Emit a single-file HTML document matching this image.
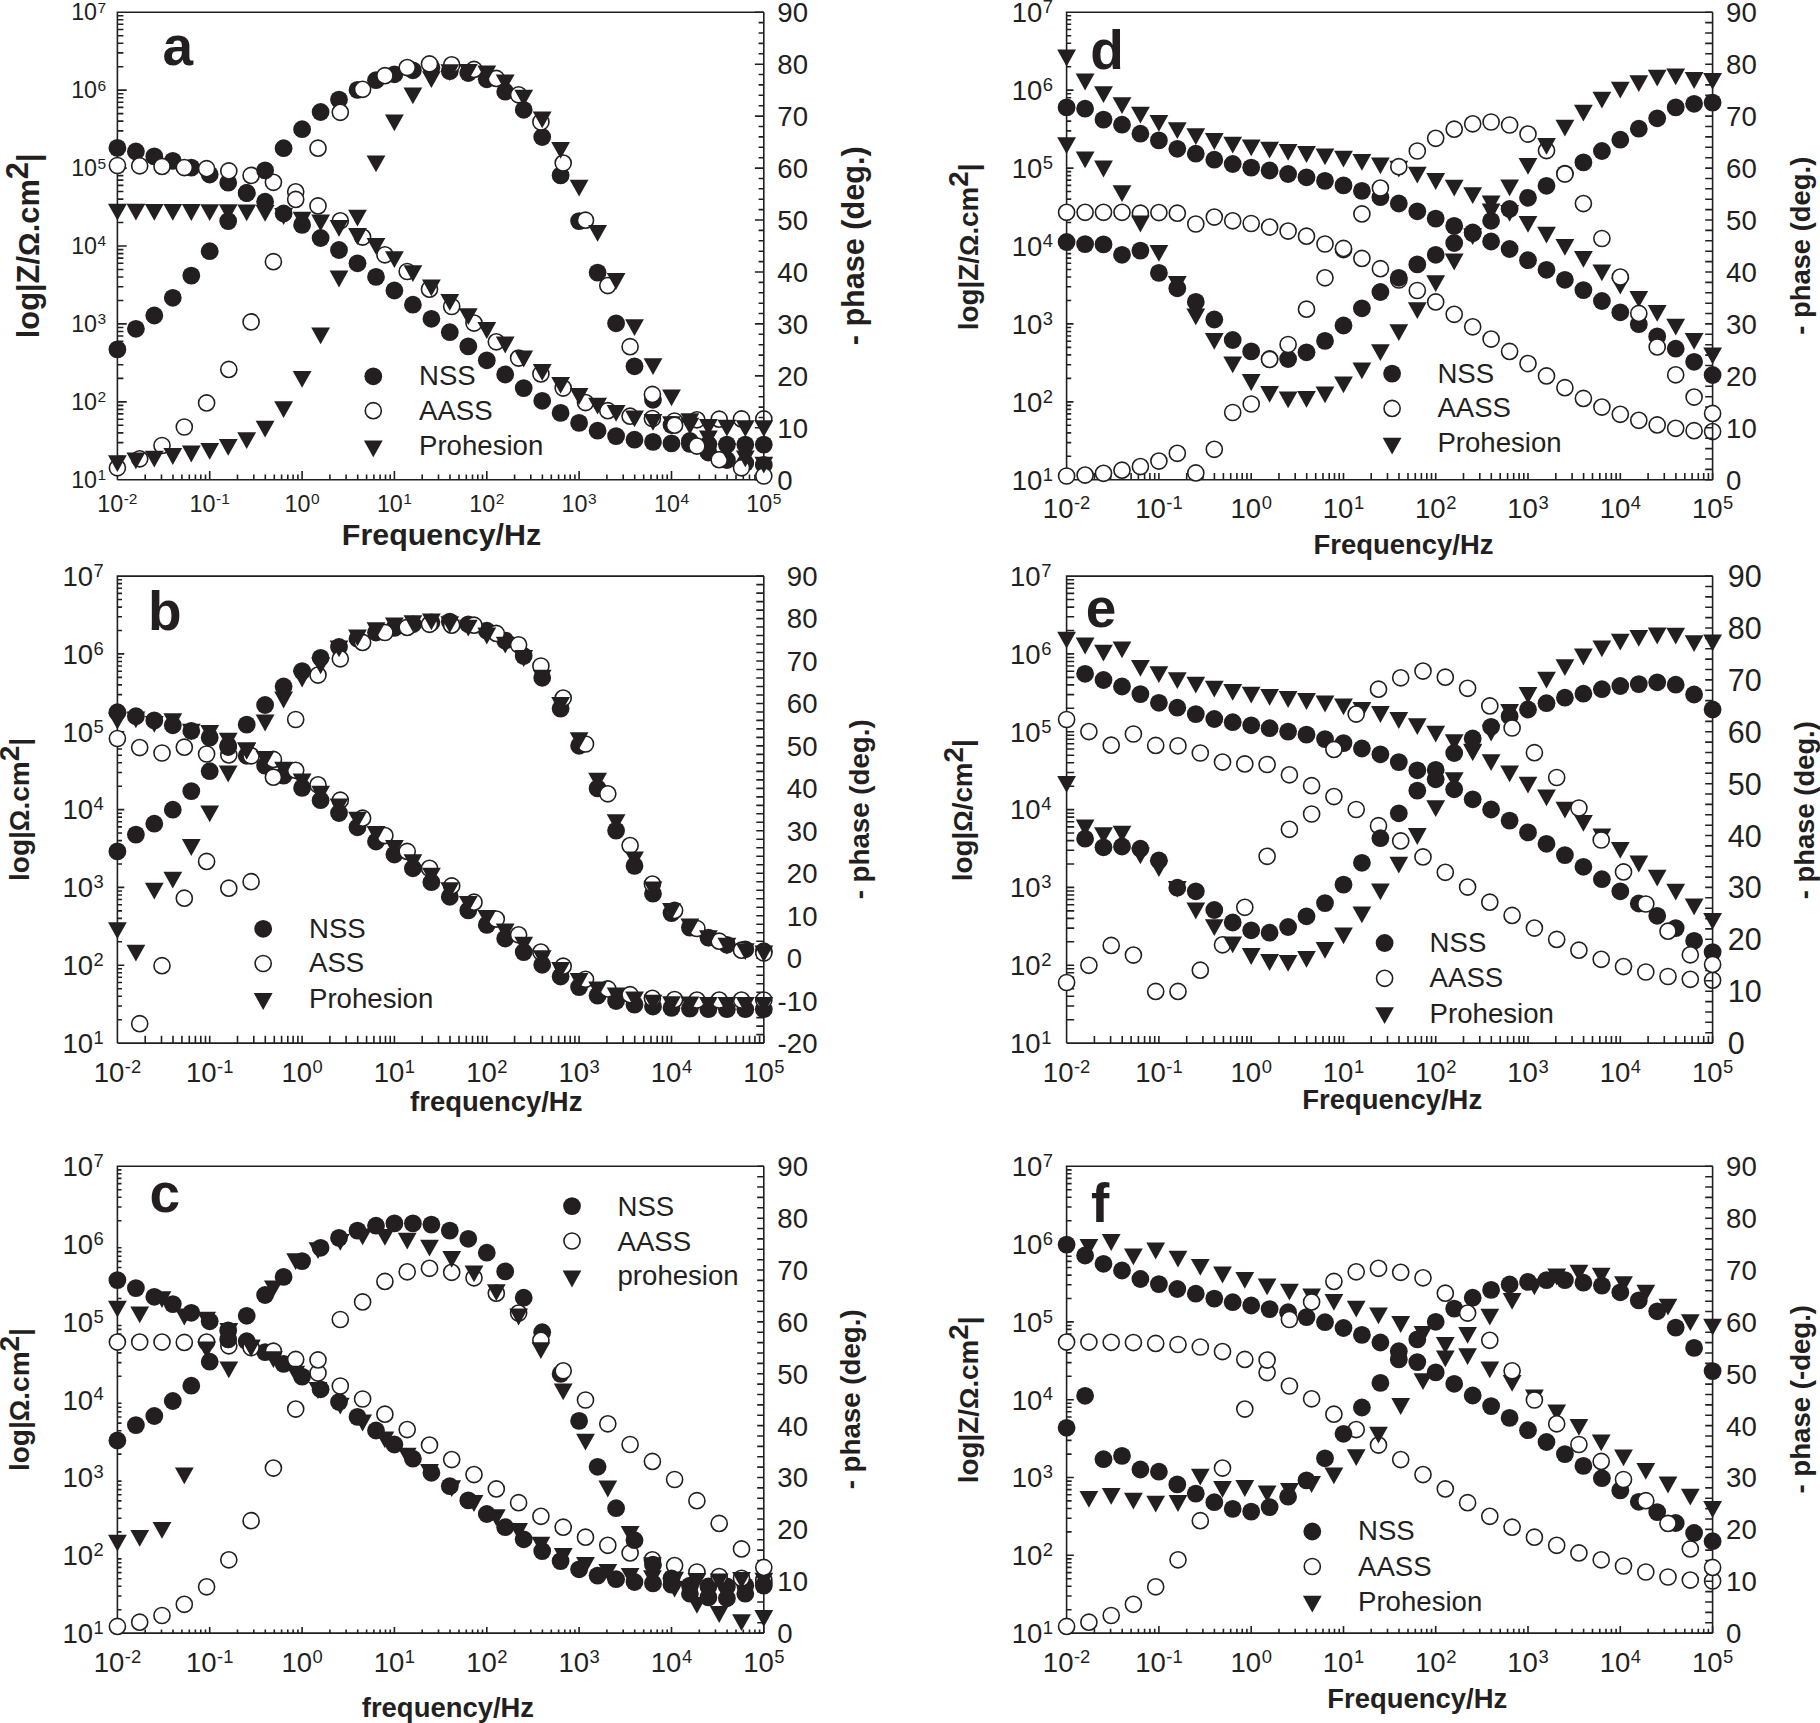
<!DOCTYPE html>
<html lang="en"><head><meta charset="utf-8"><title>Bode plots</title>
<style>
html,body{margin:0;padding:0;background:#fff}
svg{display:block}
svg text{font-family:"Liberation Sans",sans-serif;fill:#231f20}
svg circle,svg path{fill:#231f20}
.ax{fill:none;stroke:#231f20;stroke-width:1.6;stroke-linecap:butt}
.o{fill:#fff;stroke:#231f20;stroke-width:1.6}
.tl{font-size:23.3px}
.sp{font-size:15.5px}
.lg{font-size:27.6px}
.rl{font-size:27.6px}
.b{font-weight:bold}
</style></head><body>
<svg width="1820" height="1723" viewBox="0 0 1820 1723">
<rect width="1820" height="1723" fill="#fff" style="fill:#fff"/>
<g id="panel-a">
<path class="ax" d="M117.4 479.8V12.2H763.8M117.4 479.8H763.8M117.4 479.8h9.3M117.4 456.3h6M117.4 442.6h6M117.4 432.9h6M117.4 425.3h6M117.4 419.2h6M117.4 413.9h6M117.4 409.4h6M117.4 405.4h6M117.4 401.9h9.3M117.4 378.4h6M117.4 364.7h6M117.4 354.9h6M117.4 347.4h6M117.4 341.2h6M117.4 336h6M117.4 331.5h6M117.4 327.5h6M117.4 323.9h9.3M117.4 300.5h6M117.4 286.7h6M117.4 277h6M117.4 269.5h6M117.4 263.3h6M117.4 258.1h6M117.4 253.6h6M117.4 249.6h6M117.4 246h9.3M117.4 222.5h6M117.4 208.8h6M117.4 199.1h6M117.4 191.5h6M117.4 185.4h6M117.4 180.1h6M117.4 175.6h6M117.4 171.6h6M117.4 168.1h9.3M117.4 144.6h6M117.4 130.9h6M117.4 121.1h6M117.4 113.6h6M117.4 107.4h6M117.4 102.2h6M117.4 97.7h6M117.4 93.7h6M117.4 90.1h9.3M117.4 66.7h6M117.4 52.9h6M117.4 43.2h6M117.4 35.7h6M117.4 29.5h6M117.4 24.3h6M117.4 19.8h6M117.4 15.8h6M117.4 12.2h9.3M117.4 479.8v-8.9M145.2 479.8v-5.4M161.5 479.8v-5.4M173 479.8v-5.4M181.9 479.8v-5.4M189.3 479.8v-5.4M195.4 479.8v-5.4M200.8 479.8v-5.4M205.5 479.8v-5.4M209.7 479.8v-8.9M237.5 479.8v-5.4M253.8 479.8v-5.4M265.3 479.8v-5.4M274.3 479.8v-5.4M281.6 479.8v-5.4M287.8 479.8v-5.4M293.1 479.8v-5.4M297.9 479.8v-5.4M302.1 479.8v-8.9M329.9 479.8v-5.4M346.1 479.8v-5.4M357.7 479.8v-5.4M366.6 479.8v-5.4M373.9 479.8v-5.4M380.1 479.8v-5.4M385.5 479.8v-5.4M390.2 479.8v-5.4M394.4 479.8v-8.9M422.2 479.8v-5.4M438.5 479.8v-5.4M450 479.8v-5.4M459 479.8v-5.4M466.3 479.8v-5.4M472.5 479.8v-5.4M477.8 479.8v-5.4M482.5 479.8v-5.4M486.8 479.8v-8.9M514.6 479.8v-5.4M530.8 479.8v-5.4M542.4 479.8v-5.4M551.3 479.8v-5.4M558.6 479.8v-5.4M564.8 479.8v-5.4M570.2 479.8v-5.4M574.9 479.8v-5.4M579.1 479.8v-8.9M606.9 479.8v-5.4M623.2 479.8v-5.4M634.7 479.8v-5.4M643.7 479.8v-5.4M651 479.8v-5.4M657.2 479.8v-5.4M662.5 479.8v-5.4M667.2 479.8v-5.4M671.5 479.8v-8.9M699.3 479.8v-5.4M715.5 479.8v-5.4M727.1 479.8v-5.4M736 479.8v-5.4M743.3 479.8v-5.4M749.5 479.8v-5.4M754.9 479.8v-5.4M759.6 479.8v-5.4M763.8 479.8v-8.9"/>
<circle cx="117.4" cy="147.9" r="8.9"/><circle cx="135.9" cy="151.5" r="8.9"/><circle cx="154.3" cy="156.4" r="8.9"/><circle cx="172.8" cy="160.9" r="8.9"/><circle cx="191.3" cy="167.6" r="8.9"/><circle cx="209.7" cy="174.5" r="8.9"/><circle cx="228.2" cy="182.7" r="8.9"/><circle cx="246.7" cy="193" r="8.9"/><circle cx="265.1" cy="201.7" r="8.9"/><circle cx="283.6" cy="213.5" r="8.9"/><circle cx="302.1" cy="224.9" r="8.9"/><circle cx="320.6" cy="238" r="8.9"/><circle cx="339" cy="250" r="8.9"/><circle cx="357.5" cy="263.3" r="8.9"/><circle cx="376" cy="276.9" r="8.9"/><circle cx="394.4" cy="290.5" r="8.9"/><circle cx="412.9" cy="304.7" r="8.9"/><circle cx="431.4" cy="318.8" r="8.9"/><circle cx="449.8" cy="332.2" r="8.9"/><circle cx="468.3" cy="346.4" r="8.9"/><circle cx="486.8" cy="360.3" r="8.9"/><circle cx="505.2" cy="374.5" r="8.9"/><circle cx="523.7" cy="388.1" r="8.9"/><circle cx="542.2" cy="400.8" r="8.9"/><circle cx="560.6" cy="412.9" r="8.9"/><circle cx="579.1" cy="422.9" r="8.9"/><circle cx="597.6" cy="430.7" r="8.9"/><circle cx="616.1" cy="436.1" r="8.9"/><circle cx="634.5" cy="439.7" r="8.9"/><circle cx="653" cy="441.9" r="8.9"/><circle cx="671.5" cy="443.4" r="8.9"/><circle cx="689.9" cy="443.9" r="8.9"/><circle cx="708.4" cy="444.3" r="8.9"/><circle cx="726.9" cy="444.6" r="8.9"/><circle cx="745.3" cy="444.6" r="8.9"/><circle cx="763.8" cy="444.6" r="8.9"/>
<circle cx="117.4" cy="165.5" r="8.05" class="o"/><circle cx="139.7" cy="165.8" r="8.05" class="o"/><circle cx="162" cy="166.4" r="8.05" class="o"/><circle cx="184.3" cy="167.6" r="8.05" class="o"/><circle cx="206.6" cy="168.7" r="8.05" class="o"/><circle cx="228.8" cy="170.9" r="8.05" class="o"/><circle cx="251.1" cy="175.4" r="8.05" class="o"/><circle cx="273.4" cy="182.3" r="8.05" class="o"/><circle cx="295.7" cy="191.8" r="8.05" class="o"/><circle cx="318" cy="205.9" r="8.05" class="o"/><circle cx="340.3" cy="220.8" r="8.05" class="o"/><circle cx="362.6" cy="237.1" r="8.05" class="o"/><circle cx="384.9" cy="254.8" r="8.05" class="o"/><circle cx="407.2" cy="271.5" r="8.05" class="o"/><circle cx="429.5" cy="289.2" r="8.05" class="o"/><circle cx="451.7" cy="306.5" r="8.05" class="o"/><circle cx="474" cy="323.1" r="8.05" class="o"/><circle cx="496.3" cy="341.8" r="8.05" class="o"/><circle cx="518.6" cy="358.1" r="8.05" class="o"/><circle cx="540.9" cy="373.9" r="8.05" class="o"/><circle cx="563.2" cy="388.1" r="8.05" class="o"/><circle cx="585.5" cy="402.6" r="8.05" class="o"/><circle cx="607.8" cy="410.7" r="8.05" class="o"/><circle cx="630.1" cy="416.2" r="8.05" class="o"/><circle cx="652.4" cy="418.5" r="8.05" class="o"/><circle cx="674.6" cy="421" r="8.05" class="o"/><circle cx="696.9" cy="419.8" r="8.05" class="o"/><circle cx="719.2" cy="419.2" r="8.05" class="o"/><circle cx="741.5" cy="418.9" r="8.05" class="o"/><circle cx="763.8" cy="418.9" r="8.05" class="o"/>
<path d="M108 203.7h18.8L117.4 220.5z"/><path d="M126.5 203.8h18.8L135.9 220.6z"/><path d="M144.9 203.9h18.8L154.3 220.7z"/><path d="M163.4 204h18.8L172.8 220.8z"/><path d="M181.9 204.1h18.8L191.3 220.9z"/><path d="M200.3 204.2h18.8L209.7 221z"/><path d="M218.8 204.3h18.8L228.2 221.1z"/><path d="M237.3 204.5h18.8L246.7 221.3z"/><path d="M255.7 204.9h18.8L265.1 221.7z"/><path d="M274.2 208.1h18.8L283.6 224.9z"/><path d="M292.7 211.7h18.8L302.1 228.5z"/><path d="M311.2 214.5h18.8L320.6 231.3z"/><path d="M329.6 219.9h18.8L339 236.7z"/><path d="M348.1 228.1h18.8L357.5 244.9z"/><path d="M366.6 238h18.8L376 254.8z"/><path d="M385 251.2h18.8L394.4 268z"/><path d="M403.5 265.3h18.8L412.9 282.1z"/><path d="M422 279.5h18.8L431.4 296.3z"/><path d="M440.4 294h18.8L449.8 310.8z"/><path d="M458.9 308.3h18.8L468.3 325.1z"/><path d="M477.4 322.1h18.8L486.8 338.9z"/><path d="M495.8 336.6h18.8L505.2 353.4z"/><path d="M514.3 350.6h18.8L523.7 367.4z"/><path d="M532.8 364h18.8L542.2 380.8z"/><path d="M551.2 376.9h18.8L560.6 393.7z"/><path d="M569.7 388.1h18.8L579.1 404.9z"/><path d="M588.2 397.7h18.8L597.6 414.5z"/><path d="M606.7 405h18.8L616.1 421.8z"/><path d="M625.1 410.4h18.8L634.5 427.2z"/><path d="M643.6 414h18.8L653 430.8z"/><path d="M662.1 416.2h18.8L671.5 433z"/><path d="M680.5 417.7h18.8L689.9 434.5z"/><path d="M699 418.9h18.8L708.4 435.7z"/><path d="M717.5 419.8h18.8L726.9 436.6z"/><path d="M735.9 420.2h18.8L745.3 437z"/><path d="M754.4 420.2h18.8L763.8 437z"/>
<path class="ax" d="M763.8 12.2V479.8M763.8 479.8h-8.9M763.8 469.4h-5.2M763.8 459h-5.2M763.8 448.6h-5.2M763.8 438.2h-5.2M763.8 427.8h-8.9M763.8 417.5h-5.2M763.8 407.1h-5.2M763.8 396.7h-5.2M763.8 386.3h-5.2M763.8 375.9h-8.9M763.8 365.5h-5.2M763.8 355.1h-5.2M763.8 344.7h-5.2M763.8 334.3h-5.2M763.8 323.9h-8.9M763.8 313.5h-5.2M763.8 303.2h-5.2M763.8 292.8h-5.2M763.8 282.4h-5.2M763.8 272h-8.9M763.8 261.6h-5.2M763.8 251.2h-5.2M763.8 240.8h-5.2M763.8 230.4h-5.2M763.8 220h-8.9M763.8 209.6h-5.2M763.8 199.2h-5.2M763.8 188.8h-5.2M763.8 178.5h-5.2M763.8 168.1h-8.9M763.8 157.7h-5.2M763.8 147.3h-5.2M763.8 136.9h-5.2M763.8 126.5h-5.2M763.8 116.1h-8.9M763.8 105.7h-5.2M763.8 95.3h-5.2M763.8 84.9h-5.2M763.8 74.5h-5.2M763.8 64.2h-8.9M763.8 53.8h-5.2M763.8 43.4h-5.2M763.8 33h-5.2M763.8 22.6h-5.2M763.8 12.2h-8.9"/>
<circle cx="117.4" cy="349.4" r="8.9"/><circle cx="135.9" cy="328.8" r="8.9"/><circle cx="154.3" cy="315.5" r="8.9"/><circle cx="172.8" cy="297.8" r="8.9"/><circle cx="191.3" cy="275.6" r="8.9"/><circle cx="209.7" cy="251.2" r="8.9"/><circle cx="228.2" cy="221.1" r="8.9"/><circle cx="246.7" cy="193" r="8.9"/><circle cx="265.1" cy="170.4" r="8.9"/><circle cx="283.6" cy="148.2" r="8.9"/><circle cx="302.1" cy="129.2" r="8.9"/><circle cx="320.6" cy="112" r="8.9"/><circle cx="339" cy="99.6" r="8.9"/><circle cx="357.5" cy="89.9" r="8.9"/><circle cx="376" cy="80.2" r="8.9"/><circle cx="394.4" cy="74.3" r="8.9"/><circle cx="412.9" cy="70.3" r="8.9"/><circle cx="431.4" cy="67.6" r="8.9"/><circle cx="449.8" cy="71.2" r="8.9"/><circle cx="468.3" cy="73" r="8.9"/><circle cx="486.8" cy="79.3" r="8.9"/><circle cx="505.2" cy="91.7" r="8.9"/><circle cx="523.7" cy="109.8" r="8.9"/><circle cx="542.2" cy="137" r="8.9"/><circle cx="560.6" cy="175.4" r="8.9"/><circle cx="579.1" cy="221.1" r="8.9"/><circle cx="597.6" cy="272.6" r="8.9"/><circle cx="616.1" cy="323.3" r="8.9"/><circle cx="634.5" cy="366.3" r="8.9"/><circle cx="653" cy="399.8" r="8.9"/><circle cx="671.5" cy="425" r="8.9"/><circle cx="689.9" cy="441" r="8.9"/><circle cx="708.4" cy="452.5" r="8.9"/><circle cx="726.9" cy="460" r="8.9"/><circle cx="745.3" cy="463" r="8.9"/><circle cx="763.8" cy="465" r="8.9"/>
<circle cx="117.4" cy="467.8" r="8.05" class="o"/><circle cx="139.7" cy="458.8" r="8.05" class="o"/><circle cx="162" cy="445.5" r="8.05" class="o"/><circle cx="184.3" cy="427" r="8.05" class="o"/><circle cx="206.6" cy="402.9" r="8.05" class="o"/><circle cx="228.8" cy="369.4" r="8.05" class="o"/><circle cx="251.1" cy="321.9" r="8.05" class="o"/><circle cx="273.4" cy="261.7" r="8.05" class="o"/><circle cx="295.7" cy="199.4" r="8.05" class="o"/><circle cx="318" cy="148.2" r="8.05" class="o"/><circle cx="340.3" cy="112.3" r="8.05" class="o"/><circle cx="362.6" cy="89.3" r="8.05" class="o"/><circle cx="384.9" cy="75.7" r="8.05" class="o"/><circle cx="407.2" cy="67.6" r="8.05" class="o"/><circle cx="429.5" cy="63.9" r="8.05" class="o"/><circle cx="451.7" cy="64.8" r="8.05" class="o"/><circle cx="474" cy="69.4" r="8.05" class="o"/><circle cx="496.3" cy="78.4" r="8.05" class="o"/><circle cx="518.6" cy="94.8" r="8.05" class="o"/><circle cx="540.9" cy="122" r="8.05" class="o"/><circle cx="563.2" cy="163.1" r="8.05" class="o"/><circle cx="585.5" cy="220.2" r="8.05" class="o"/><circle cx="607.8" cy="285.6" r="8.05" class="o"/><circle cx="630.1" cy="346.7" r="8.05" class="o"/><circle cx="652.4" cy="394.4" r="8.05" class="o"/><circle cx="674.6" cy="425.2" r="8.05" class="o"/><circle cx="696.9" cy="446.1" r="8.05" class="o"/><circle cx="719.2" cy="459.7" r="8.05" class="o"/><circle cx="741.5" cy="467.8" r="8.05" class="o"/><circle cx="763.8" cy="476" r="8.05" class="o"/>
<path d="M108 455.2h18.8L117.4 472z"/><path d="M126.5 452.5h18.8L135.9 469.3z"/><path d="M144.9 450.7h18.8L154.3 467.5z"/><path d="M163.4 448.1h18.8L172.8 464.9z"/><path d="M181.9 445.6h18.8L191.3 462.4z"/><path d="M200.3 443h18.8L209.7 459.8z"/><path d="M218.8 438.9h18.8L228.2 455.7z"/><path d="M237.3 432.2h18.8L246.7 449z"/><path d="M255.7 420.7h18.8L265.1 437.5z"/><path d="M274.2 401.2h18.8L283.6 418z"/><path d="M292.7 370.9h18.8L302.1 387.7z"/><path d="M311.2 327.4h18.8L320.6 344.2z"/><path d="M329.6 270.6h18.8L339 287.4z"/><path d="M348.1 209.8h18.8L357.5 226.6z"/><path d="M366.6 155.5h18.8L376 172.3z"/><path d="M385 114.4h18.8L394.4 131.2z"/><path d="M403.5 87.5h18.8L412.9 104.3z"/><path d="M422 71.2h18.8L431.4 88z"/><path d="M440.4 64.2h18.8L449.8 81z"/><path d="M458.9 64h18.8L468.3 80.8z"/><path d="M477.4 65.6h18.8L486.8 82.4z"/><path d="M495.8 74.5h18.8L505.2 91.3z"/><path d="M514.3 89.7h18.8L523.7 106.5z"/><path d="M532.8 111.5h18.8L542.2 128.3z"/><path d="M551.2 141.9h18.8L560.6 158.7z"/><path d="M569.7 179.8h18.8L579.1 196.6z"/><path d="M588.2 225h18.8L597.6 241.8z"/><path d="M606.7 273h18.8L616.1 289.8z"/><path d="M625.1 319.2h18.8L634.5 336z"/><path d="M643.6 358.2h18.8L653 375z"/><path d="M662.1 389.4h18.8L671.5 406.2z"/><path d="M680.5 413.3h18.8L689.9 430.1z"/><path d="M699 430.5h18.8L708.4 447.3z"/><path d="M717.5 443.2h18.8L726.9 460z"/><path d="M735.9 450.5h18.8L745.3 467.3z"/><path d="M754.4 456.8h18.8L763.8 473.6z"/>
<circle cx="373.3" cy="376.3" r="8.9"/>
<text x="419" y="385" class="lg">NSS</text>
<circle cx="373.3" cy="410.7" r="8.05" class="o"/>
<text x="419" y="420" class="lg">AASS</text>
<path d="M363.9 440.5h18.8L373.3 457.3z"/>
<text x="419" y="455" class="lg">Prohesion</text>
<text x="106.2" y="487.8" font-size="23.3" text-anchor="end">10<tspan font-size="15.5" dx="0.5" dy="-7.6">1</tspan></text>
<text x="106.2" y="409.9" font-size="23.3" text-anchor="end">10<tspan font-size="15.5" dx="0.5" dy="-7.6">2</tspan></text>
<text x="106.2" y="331.9" font-size="23.3" text-anchor="end">10<tspan font-size="15.5" dx="0.5" dy="-7.6">3</tspan></text>
<text x="106.2" y="254" font-size="23.3" text-anchor="end">10<tspan font-size="15.5" dx="0.5" dy="-7.6">4</tspan></text>
<text x="106.2" y="176.1" font-size="23.3" text-anchor="end">10<tspan font-size="15.5" dx="0.5" dy="-7.6">5</tspan></text>
<text x="106.2" y="98.1" font-size="23.3" text-anchor="end">10<tspan font-size="15.5" dx="0.5" dy="-7.6">6</tspan></text>
<text x="106.2" y="20.2" font-size="23.3" text-anchor="end">10<tspan font-size="15.5" dx="0.5" dy="-7.6">7</tspan></text>
<text x="117.4" y="511.9" font-size="23.3" text-anchor="middle">10<tspan font-size="15.5" dx="0.5" dy="-7.6">-2</tspan></text>
<text x="209.7" y="511.9" font-size="23.3" text-anchor="middle">10<tspan font-size="15.5" dx="0.5" dy="-7.6">-1</tspan></text>
<text x="302.1" y="511.9" font-size="23.3" text-anchor="middle">10<tspan font-size="15.5" dx="0.5" dy="-7.6">0</tspan></text>
<text x="394.4" y="511.9" font-size="23.3" text-anchor="middle">10<tspan font-size="15.5" dx="0.5" dy="-7.6">1</tspan></text>
<text x="486.8" y="511.9" font-size="23.3" text-anchor="middle">10<tspan font-size="15.5" dx="0.5" dy="-7.6">2</tspan></text>
<text x="579.1" y="511.9" font-size="23.3" text-anchor="middle">10<tspan font-size="15.5" dx="0.5" dy="-7.6">3</tspan></text>
<text x="671.5" y="511.9" font-size="23.3" text-anchor="middle">10<tspan font-size="15.5" dx="0.5" dy="-7.6">4</tspan></text>
<text x="763.8" y="511.9" font-size="23.3" text-anchor="middle">10<tspan font-size="15.5" dx="0.5" dy="-7.6">5</tspan></text>
<text x="777.3" y="489.7" font-size="27.6">0</text>
<text x="777.3" y="437.7" font-size="27.6">10</text>
<text x="777.3" y="385.8" font-size="27.6">20</text>
<text x="777.3" y="333.8" font-size="27.6">30</text>
<text x="777.3" y="281.9" font-size="27.6">40</text>
<text x="777.3" y="229.9" font-size="27.6">50</text>
<text x="777.3" y="177.9" font-size="27.6">60</text>
<text x="777.3" y="126" font-size="27.6">70</text>
<text x="777.3" y="74" font-size="27.6">80</text>
<text x="777.3" y="22.1" font-size="27.6">90</text>
<text x="162.6" y="64.8" class="b" font-size="55" text-anchor="start">a</text>
<text transform="translate(39.3,338.2) rotate(-90)" class="b" font-size="30.8" text-anchor="start">log|Z/<tspan font-size="29.6">Ω</tspan>.cm<tspan dx="0" dy="-11.6" font-size="30.8">2</tspan><tspan dx="0" dy="11.6">|</tspan></text>
<text transform="translate(864,345.3) rotate(-90)" class="b" font-size="30.6" text-anchor="start">- phase (deg.)</text>
<text x="441.5" y="544.7" class="b" font-size="30.4" text-anchor="middle">Frequency/Hz</text>
</g>
<g id="panel-b">
<path class="ax" d="M117.4 1043.1V576.1H763.8M117.4 1043.1H763.8M117.4 1043.1h6.9M117.4 1019.7h4.6M117.4 1006h4.6M117.4 996.2h4.6M117.4 988.7h4.6M117.4 982.5h4.6M117.4 977.3h4.6M117.4 972.8h4.6M117.4 968.8h4.6M117.4 965.3h6.9M117.4 941.8h4.6M117.4 928.1h4.6M117.4 918.4h4.6M117.4 910.9h4.6M117.4 904.7h4.6M117.4 899.5h4.6M117.4 895h4.6M117.4 891h4.6M117.4 887.4h6.9M117.4 864h4.6M117.4 850.3h4.6M117.4 840.6h4.6M117.4 833h4.6M117.4 826.9h4.6M117.4 821.7h4.6M117.4 817.1h4.6M117.4 813.2h4.6M117.4 809.6h6.9M117.4 786.2h4.6M117.4 772.5h4.6M117.4 762.7h4.6M117.4 755.2h4.6M117.4 749h4.6M117.4 743.8h4.6M117.4 739.3h4.6M117.4 735.3h4.6M117.4 731.8h6.9M117.4 708.3h4.6M117.4 694.6h4.6M117.4 684.9h4.6M117.4 677.4h4.6M117.4 671.2h4.6M117.4 666h4.6M117.4 661.5h4.6M117.4 657.5h4.6M117.4 653.9h6.9M117.4 630.5h4.6M117.4 616.8h4.6M117.4 607.1h4.6M117.4 599.5h4.6M117.4 593.4h4.6M117.4 588.2h4.6M117.4 583.6h4.6M117.4 579.7h4.6M117.4 576.1h6.9M117.4 1043.1v-7.4M145.2 1043.1v-7.4M161.5 1043.1v-7.4M173 1043.1v-7.4M181.9 1043.1v-7.4M189.3 1043.1v-7.4M195.4 1043.1v-7.4M200.8 1043.1v-7.4M205.5 1043.1v-7.4M209.7 1043.1v-7.4M237.5 1043.1v-7.4M253.8 1043.1v-7.4M265.3 1043.1v-7.4M274.3 1043.1v-7.4M281.6 1043.1v-7.4M287.8 1043.1v-7.4M293.1 1043.1v-7.4M297.9 1043.1v-7.4M302.1 1043.1v-7.4M329.9 1043.1v-7.4M346.1 1043.1v-7.4M357.7 1043.1v-7.4M366.6 1043.1v-7.4M373.9 1043.1v-7.4M380.1 1043.1v-7.4M385.5 1043.1v-7.4M390.2 1043.1v-7.4M394.4 1043.1v-7.4M422.2 1043.1v-7.4M438.5 1043.1v-7.4M450 1043.1v-7.4M459 1043.1v-7.4M466.3 1043.1v-7.4M472.5 1043.1v-7.4M477.8 1043.1v-7.4M482.5 1043.1v-7.4M486.8 1043.1v-7.4M514.6 1043.1v-7.4M530.8 1043.1v-7.4M542.4 1043.1v-7.4M551.3 1043.1v-7.4M558.6 1043.1v-7.4M564.8 1043.1v-7.4M570.2 1043.1v-7.4M574.9 1043.1v-7.4M579.1 1043.1v-7.4M606.9 1043.1v-7.4M623.2 1043.1v-7.4M634.7 1043.1v-7.4M643.7 1043.1v-7.4M651 1043.1v-7.4M657.2 1043.1v-7.4M662.5 1043.1v-7.4M667.2 1043.1v-7.4M671.5 1043.1v-7.4M699.3 1043.1v-7.4M715.5 1043.1v-7.4M727.1 1043.1v-7.4M736 1043.1v-7.4M743.3 1043.1v-7.4M749.5 1043.1v-7.4M754.9 1043.1v-7.4M759.6 1043.1v-7.4M763.8 1043.1v-7.4"/>
<circle cx="117.4" cy="712.2" r="8.9"/><circle cx="135.9" cy="716.2" r="8.9"/><circle cx="154.3" cy="720.4" r="8.9"/><circle cx="172.8" cy="725.3" r="8.9"/><circle cx="191.3" cy="730.9" r="8.9"/><circle cx="209.7" cy="737.6" r="8.9"/><circle cx="228.2" cy="745.8" r="8.9"/><circle cx="246.7" cy="755.8" r="8.9"/><circle cx="265.1" cy="765.7" r="8.9"/><circle cx="283.6" cy="775.7" r="8.9"/><circle cx="302.1" cy="787.9" r="8.9"/><circle cx="320.6" cy="800.2" r="8.9"/><circle cx="339" cy="813" r="8.9"/><circle cx="357.5" cy="827.3" r="8.9"/><circle cx="376" cy="841.5" r="8.9"/><circle cx="394.4" cy="854.5" r="8.9"/><circle cx="412.9" cy="868.3" r="8.9"/><circle cx="431.4" cy="882.2" r="8.9"/><circle cx="449.8" cy="896.8" r="8.9"/><circle cx="468.3" cy="910.4" r="8.9"/><circle cx="486.8" cy="924.9" r="8.9"/><circle cx="505.2" cy="938.5" r="8.9"/><circle cx="523.7" cy="952.1" r="8.9"/><circle cx="542.2" cy="964.8" r="8.9"/><circle cx="560.6" cy="976.5" r="8.9"/><circle cx="579.1" cy="987.1" r="8.9"/><circle cx="597.6" cy="995.6" r="8.9"/><circle cx="616.1" cy="1001" r="8.9"/><circle cx="634.5" cy="1004.6" r="8.9"/><circle cx="653" cy="1006.5" r="8.9"/><circle cx="671.5" cy="1007.9" r="8.9"/><circle cx="689.9" cy="1008.6" r="8.9"/><circle cx="708.4" cy="1009.2" r="8.9"/><circle cx="726.9" cy="1009.2" r="8.9"/><circle cx="745.3" cy="1009.2" r="8.9"/><circle cx="763.8" cy="1009.2" r="8.9"/>
<circle cx="117.4" cy="738.5" r="8.05" class="o"/><circle cx="139.7" cy="747.6" r="8.05" class="o"/><circle cx="162" cy="753" r="8.05" class="o"/><circle cx="184.3" cy="747.2" r="8.05" class="o"/><circle cx="206.6" cy="754" r="8.05" class="o"/><circle cx="228.8" cy="754.9" r="8.05" class="o"/><circle cx="251.1" cy="755.8" r="8.05" class="o"/><circle cx="273.4" cy="759.4" r="8.05" class="o"/><circle cx="295.7" cy="770.3" r="8.05" class="o"/><circle cx="318" cy="784.8" r="8.05" class="o"/><circle cx="340.3" cy="800.2" r="8.05" class="o"/><circle cx="362.6" cy="818.2" r="8.05" class="o"/><circle cx="384.9" cy="835.6" r="8.05" class="o"/><circle cx="407.2" cy="851.4" r="8.05" class="o"/><circle cx="429.5" cy="868.3" r="8.05" class="o"/><circle cx="451.7" cy="885.9" r="8.05" class="o"/><circle cx="474" cy="902.2" r="8.05" class="o"/><circle cx="496.3" cy="919.1" r="8.05" class="o"/><circle cx="518.6" cy="934.8" r="8.05" class="o"/><circle cx="540.9" cy="952.1" r="8.05" class="o"/><circle cx="563.2" cy="966.2" r="8.05" class="o"/><circle cx="585.5" cy="979.3" r="8.05" class="o"/><circle cx="607.8" cy="988.9" r="8.05" class="o"/><circle cx="630.1" cy="994.7" r="8.05" class="o"/><circle cx="652.4" cy="998.3" r="8.05" class="o"/><circle cx="674.6" cy="999.6" r="8.05" class="o"/><circle cx="696.9" cy="1000.1" r="8.05" class="o"/><circle cx="719.2" cy="1000.1" r="8.05" class="o"/><circle cx="741.5" cy="1000.1" r="8.05" class="o"/><circle cx="763.8" cy="1000" r="8.05" class="o"/>
<path d="M108 712.8h18.8L117.4 729.6z"/><path d="M126.5 711.4h18.8L135.9 728.2z"/><path d="M144.9 715.9h18.8L154.3 732.7z"/><path d="M163.4 713.2h18.8L172.8 730z"/><path d="M181.9 723.7h18.8L191.3 740.5z"/><path d="M200.3 725h18.8L209.7 741.8z"/><path d="M218.8 732.8h18.8L228.2 749.6z"/><path d="M237.3 742.6h18.8L246.7 759.4z"/><path d="M255.7 750.9h18.8L265.1 767.7z"/><path d="M274.2 761.8h18.8L283.6 778.6z"/><path d="M292.7 773.6h18.8L302.1 790.4z"/><path d="M311.2 785.7h18.8L320.6 802.5z"/><path d="M329.6 798.4h18.8L339 815.2z"/><path d="M348.1 811.7h18.8L357.5 828.5z"/><path d="M366.6 826.1h18.8L376 842.9z"/><path d="M385 840h18.8L394.4 856.8z"/><path d="M403.5 854.2h18.8L412.9 871z"/><path d="M422 867.8h18.8L431.4 884.6z"/><path d="M440.4 882.3h18.8L449.8 899.1z"/><path d="M458.9 895.9h18.8L468.3 912.7z"/><path d="M477.4 909.9h18.8L486.8 926.7z"/><path d="M495.8 923.6h18.8L505.2 940.4z"/><path d="M514.3 936.7h18.8L523.7 953.5z"/><path d="M532.8 950.3h18.8L542.2 967.1z"/><path d="M551.2 962.1h18.8L560.6 978.9z"/><path d="M569.7 973h18.8L579.1 989.8z"/><path d="M588.2 981.5h18.8L597.6 998.3z"/><path d="M606.7 987.5h18.8L616.1 1004.3z"/><path d="M625.1 991.4h18.8L634.5 1008.2z"/><path d="M643.6 994.7h18.8L653 1011.5z"/><path d="M662.1 996.2h18.8L671.5 1013z"/><path d="M680.5 996.5h18.8L689.9 1013.3z"/><path d="M699 996.9h18.8L708.4 1013.7z"/><path d="M717.5 996.9h18.8L726.9 1013.7z"/><path d="M735.9 996.9h18.8L745.3 1013.7z"/><path d="M754.4 996.9h18.8L763.8 1013.7z"/>
<path class="ax" d="M763.8 576.1V1043.1M763.8 1043.1h-7.5M763.8 1034.6h-7.5M763.8 1026.1h-7.5M763.8 1017.6h-7.5M763.8 1009.1h-7.5M763.8 1000.6h-7.5M763.8 992.2h-7.5M763.8 983.7h-7.5M763.8 975.2h-7.5M763.8 966.7h-7.5M763.8 958.2h-7.5M763.8 949.7h-7.5M763.8 941.2h-7.5M763.8 932.7h-7.5M763.8 924.2h-7.5M763.8 915.7h-7.5M763.8 907.2h-7.5M763.8 898.8h-7.5M763.8 890.3h-7.5M763.8 881.8h-7.5M763.8 873.3h-7.5M763.8 864.8h-7.5M763.8 856.3h-7.5M763.8 847.8h-7.5M763.8 839.3h-7.5M763.8 830.8h-7.5M763.8 822.3h-7.5M763.8 813.8h-7.5M763.8 805.4h-7.5M763.8 796.9h-7.5M763.8 788.4h-7.5M763.8 779.9h-7.5M763.8 771.4h-7.5M763.8 762.9h-7.5M763.8 754.4h-7.5M763.8 745.9h-7.5M763.8 737.4h-7.5M763.8 728.9h-7.5M763.8 720.4h-7.5M763.8 712h-7.5M763.8 703.5h-7.5M763.8 695h-7.5M763.8 686.5h-7.5M763.8 678h-7.5M763.8 669.5h-7.5M763.8 661h-7.5M763.8 652.5h-7.5M763.8 644h-7.5M763.8 635.5h-7.5M763.8 627h-7.5M763.8 618.6h-7.5M763.8 610.1h-7.5M763.8 601.6h-7.5M763.8 593.1h-7.5M763.8 584.6h-7.5M763.8 576.1h-7.5"/>
<circle cx="117.4" cy="851.4" r="8.9"/><circle cx="135.9" cy="834.6" r="8.9"/><circle cx="154.3" cy="823.7" r="8.9"/><circle cx="172.8" cy="809.7" r="8.9"/><circle cx="191.3" cy="791.1" r="8.9"/><circle cx="209.7" cy="771.2" r="8.9"/><circle cx="228.2" cy="747" r="8.9"/><circle cx="246.7" cy="724.6" r="8.9"/><circle cx="265.1" cy="705" r="8.9"/><circle cx="283.6" cy="686.5" r="8.9"/><circle cx="302.1" cy="671.1" r="8.9"/><circle cx="320.6" cy="657.8" r="8.9"/><circle cx="339" cy="647" r="8.9"/><circle cx="357.5" cy="638.8" r="8.9"/><circle cx="376" cy="632.5" r="8.9"/><circle cx="394.4" cy="627.9" r="8.9"/><circle cx="412.9" cy="624.3" r="8.9"/><circle cx="431.4" cy="622.5" r="8.9"/><circle cx="449.8" cy="621.6" r="8.9"/><circle cx="468.3" cy="624.3" r="8.9"/><circle cx="486.8" cy="630.7" r="8.9"/><circle cx="505.2" cy="640.6" r="8.9"/><circle cx="523.7" cy="656" r="8.9"/><circle cx="542.2" cy="677.8" r="8.9"/><circle cx="560.6" cy="708.6" r="8.9"/><circle cx="579.1" cy="745.8" r="8.9"/><circle cx="597.6" cy="788.4" r="8.9"/><circle cx="616.1" cy="830.6" r="8.9"/><circle cx="634.5" cy="865.9" r="8.9"/><circle cx="653" cy="893.7" r="8.9"/><circle cx="671.5" cy="913.1" r="8.9"/><circle cx="689.9" cy="927.6" r="8.9"/><circle cx="708.4" cy="937.6" r="8.9"/><circle cx="726.9" cy="944.8" r="8.9"/><circle cx="745.3" cy="949.3" r="8.9"/><circle cx="763.8" cy="951.2" r="8.9"/>
<circle cx="139.7" cy="1023.7" r="8.05" class="o"/><circle cx="162" cy="965.7" r="8.05" class="o"/><circle cx="184.3" cy="898.2" r="8.05" class="o"/><circle cx="206.6" cy="861.4" r="8.05" class="o"/><circle cx="228.8" cy="888.2" r="8.05" class="o"/><circle cx="251.1" cy="881.7" r="8.05" class="o"/><circle cx="273.4" cy="777.2" r="8.05" class="o"/><circle cx="295.7" cy="719.5" r="8.05" class="o"/><circle cx="318" cy="675.1" r="8.05" class="o"/><circle cx="340.3" cy="658.8" r="8.05" class="o"/><circle cx="362.6" cy="642.4" r="8.05" class="o"/><circle cx="384.9" cy="632.5" r="8.05" class="o"/><circle cx="407.2" cy="627.4" r="8.05" class="o"/><circle cx="429.5" cy="624.3" r="8.05" class="o"/><circle cx="451.7" cy="625.2" r="8.05" class="o"/><circle cx="474" cy="625.2" r="8.05" class="o"/><circle cx="496.3" cy="633.4" r="8.05" class="o"/><circle cx="518.6" cy="644.8" r="8.05" class="o"/><circle cx="540.9" cy="666" r="8.05" class="o"/><circle cx="563.2" cy="698.1" r="8.05" class="o"/><circle cx="585.5" cy="744" r="8.05" class="o"/><circle cx="607.8" cy="793.8" r="8.05" class="o"/><circle cx="630.1" cy="845.6" r="8.05" class="o"/><circle cx="652.4" cy="884.1" r="8.05" class="o"/><circle cx="674.6" cy="910.4" r="8.05" class="o"/><circle cx="696.9" cy="928.5" r="8.05" class="o"/><circle cx="719.2" cy="941.2" r="8.05" class="o"/><circle cx="741.5" cy="950.2" r="8.05" class="o"/><circle cx="763.8" cy="953" r="8.05" class="o"/>
<path d="M108 922.2h18.8L117.4 939z"/><path d="M126.5 944.8h18.8L135.9 961.6z"/><path d="M144.9 882.7h18.8L154.3 899.5z"/><path d="M163.4 871.8h18.8L172.8 888.6z"/><path d="M181.9 839.1h18.8L191.3 855.9z"/><path d="M200.3 805.4h18.8L209.7 822.2z"/><path d="M218.8 765.6h18.8L228.2 782.4z"/><path d="M237.3 742.6h18.8L246.7 759.4z"/><path d="M255.7 714.6h18.8L265.1 731.4z"/><path d="M274.2 691.6h18.8L283.6 708.4z"/><path d="M292.7 670.6h18.8L302.1 687.4z"/><path d="M311.2 657.5h18.8L320.6 674.3z"/><path d="M329.6 640.5h18.8L339 657.3z"/><path d="M348.1 629.4h18.8L357.5 646.2z"/><path d="M366.6 622.2h18.8L376 639z"/><path d="M385 617.5h18.8L394.4 634.3z"/><path d="M403.5 615.3h18.8L412.9 632.1z"/><path d="M422 613.5h18.8L431.4 630.3z"/><path d="M440.4 616.2h18.8L449.8 633z"/><path d="M458.9 619.7h18.8L468.3 636.5z"/><path d="M477.4 627.6h18.8L486.8 644.4z"/><path d="M495.8 636.7h18.8L505.2 653.5z"/><path d="M514.3 650.1h18.8L523.7 666.9z"/><path d="M532.8 669.7h18.8L542.2 686.5z"/><path d="M551.2 696.9h18.8L560.6 713.7z"/><path d="M569.7 732.2h18.8L579.1 749z"/><path d="M588.2 772.7h18.8L597.6 789.5z"/><path d="M606.7 814.3h18.8L616.1 831.1z"/><path d="M625.1 851.5h18.8L634.5 868.3z"/><path d="M643.6 881.4h18.8L653 898.2z"/><path d="M662.1 903.1h18.8L671.5 919.9z"/><path d="M680.5 918.6h18.8L689.9 935.4z"/><path d="M699 930.3h18.8L708.4 947.1z"/><path d="M717.5 937.8h18.8L726.9 954.6z"/><path d="M735.9 943.2h18.8L745.3 960z"/><path d="M754.4 945.4h18.8L763.8 962.2z"/>
<circle cx="263.2" cy="928.8" r="8.9"/>
<text x="309" y="937.9" class="lg">NSS</text>
<circle cx="263.2" cy="963.5" r="8.05" class="o"/>
<text x="309" y="972.4" class="lg">ASS</text>
<path d="M253.8 993.1h18.8L263.2 1009.9z"/>
<text x="309" y="1007.7" class="lg">Prohesion</text>
<text x="103.8" y="1052.9" font-size="27.5" text-anchor="end">10<tspan font-size="18.4" dx="0.5" dy="-9.1">1</tspan></text>
<text x="103.8" y="975.1" font-size="27.5" text-anchor="end">10<tspan font-size="18.4" dx="0.5" dy="-9.1">2</tspan></text>
<text x="103.8" y="897.2" font-size="27.5" text-anchor="end">10<tspan font-size="18.4" dx="0.5" dy="-9.1">3</tspan></text>
<text x="103.8" y="819.4" font-size="27.5" text-anchor="end">10<tspan font-size="18.4" dx="0.5" dy="-9.1">4</tspan></text>
<text x="103.8" y="741.6" font-size="27.5" text-anchor="end">10<tspan font-size="18.4" dx="0.5" dy="-9.1">5</tspan></text>
<text x="103.8" y="663.7" font-size="27.5" text-anchor="end">10<tspan font-size="18.4" dx="0.5" dy="-9.1">6</tspan></text>
<text x="103.8" y="585.9" font-size="27.5" text-anchor="end">10<tspan font-size="18.4" dx="0.5" dy="-9.1">7</tspan></text>
<text x="117.4" y="1081.6" font-size="27.5" text-anchor="middle">10<tspan font-size="18.4" dx="0.5" dy="-9.1">-2</tspan></text>
<text x="209.7" y="1081.6" font-size="27.5" text-anchor="middle">10<tspan font-size="18.4" dx="0.5" dy="-9.1">-1</tspan></text>
<text x="302.1" y="1081.6" font-size="27.5" text-anchor="middle">10<tspan font-size="18.4" dx="0.5" dy="-9.1">0</tspan></text>
<text x="394.4" y="1081.6" font-size="27.5" text-anchor="middle">10<tspan font-size="18.4" dx="0.5" dy="-9.1">1</tspan></text>
<text x="486.8" y="1081.6" font-size="27.5" text-anchor="middle">10<tspan font-size="18.4" dx="0.5" dy="-9.1">2</tspan></text>
<text x="579.1" y="1081.6" font-size="27.5" text-anchor="middle">10<tspan font-size="18.4" dx="0.5" dy="-9.1">3</tspan></text>
<text x="671.5" y="1081.6" font-size="27.5" text-anchor="middle">10<tspan font-size="18.4" dx="0.5" dy="-9.1">4</tspan></text>
<text x="763.8" y="1081.6" font-size="27.5" text-anchor="middle">10<tspan font-size="18.4" dx="0.5" dy="-9.1">5</tspan></text>
<text x="777.6" y="1053" font-size="27.6">-20</text>
<text x="777.6" y="1010.5" font-size="27.6">-10</text>
<text x="786.8" y="968.1" font-size="27.6">0</text>
<text x="786.8" y="925.6" font-size="27.6">10</text>
<text x="786.8" y="883.2" font-size="27.6">20</text>
<text x="786.8" y="840.7" font-size="27.6">30</text>
<text x="786.8" y="798.3" font-size="27.6">40</text>
<text x="786.8" y="755.8" font-size="27.6">50</text>
<text x="786.8" y="713.3" font-size="27.6">60</text>
<text x="786.8" y="670.9" font-size="27.6">70</text>
<text x="786.8" y="628.4" font-size="27.6">80</text>
<text x="786.8" y="586" font-size="27.6">90</text>
<text x="148" y="630.4" class="b" font-size="55" text-anchor="start">b</text>
<text transform="translate(29,881) rotate(-90)" class="b" font-size="28" text-anchor="start">log|<tspan font-size="26.9">Ω</tspan>.cm<tspan dx="0" dy="-9.8" font-size="28.0">2</tspan><tspan dx="0" dy="9.8">|</tspan></text>
<text transform="translate(869,899.3) rotate(-90)" class="b" font-size="27.7" text-anchor="start">- phase (deg.)</text>
<text x="410.1" y="1111.2" class="b" font-size="27.45" text-anchor="start">frequency/Hz</text>
</g>
<g id="panel-c">
<path class="ax" d="M117.4 1633.1V1166.3H763.8M117.4 1633.1H763.8M117.4 1609.7h4.1M117.4 1596h4.1M117.4 1586.3h4.1M117.4 1578.7h4.1M117.4 1572.6h4.1M117.4 1567.4h4.1M117.4 1562.8h4.1M117.4 1558.9h4.1M117.4 1531.9h4.1M117.4 1518.2h4.1M117.4 1508.5h4.1M117.4 1500.9h4.1M117.4 1494.8h4.1M117.4 1489.6h4.1M117.4 1485h4.1M117.4 1481.1h4.1M117.4 1454.1h4.1M117.4 1440.4h4.1M117.4 1430.7h4.1M117.4 1423.1h4.1M117.4 1417h4.1M117.4 1411.8h4.1M117.4 1407.2h4.1M117.4 1403.3h4.1M117.4 1376.3h4.1M117.4 1362.6h4.1M117.4 1352.9h4.1M117.4 1345.3h4.1M117.4 1339.2h4.1M117.4 1334h4.1M117.4 1329.4h4.1M117.4 1325.5h4.1M117.4 1298.5h4.1M117.4 1284.8h4.1M117.4 1275.1h4.1M117.4 1267.5h4.1M117.4 1261.4h4.1M117.4 1256.2h4.1M117.4 1251.6h4.1M117.4 1247.7h4.1M117.4 1220.7h4.1M117.4 1207h4.1M117.4 1197.3h4.1M117.4 1189.7h4.1M117.4 1183.6h4.1M117.4 1178.4h4.1M117.4 1173.8h4.1M117.4 1169.9h4.1M117.4 1633.1v-6.2M145.2 1633.1v-3.6M161.5 1633.1v-3.6M173 1633.1v-3.6M181.9 1633.1v-3.6M189.3 1633.1v-3.6M195.4 1633.1v-3.6M200.8 1633.1v-3.6M205.5 1633.1v-3.6M209.7 1633.1v-6.2M237.5 1633.1v-3.6M253.8 1633.1v-3.6M265.3 1633.1v-3.6M274.3 1633.1v-3.6M281.6 1633.1v-3.6M287.8 1633.1v-3.6M293.1 1633.1v-3.6M297.9 1633.1v-3.6M302.1 1633.1v-6.2M329.9 1633.1v-3.6M346.1 1633.1v-3.6M357.7 1633.1v-3.6M366.6 1633.1v-3.6M373.9 1633.1v-3.6M380.1 1633.1v-3.6M385.5 1633.1v-3.6M390.2 1633.1v-3.6M394.4 1633.1v-6.2M422.2 1633.1v-3.6M438.5 1633.1v-3.6M450 1633.1v-3.6M459 1633.1v-3.6M466.3 1633.1v-3.6M472.5 1633.1v-3.6M477.8 1633.1v-3.6M482.5 1633.1v-3.6M486.8 1633.1v-6.2M514.6 1633.1v-3.6M530.8 1633.1v-3.6M542.4 1633.1v-3.6M551.3 1633.1v-3.6M558.6 1633.1v-3.6M564.8 1633.1v-3.6M570.2 1633.1v-3.6M574.9 1633.1v-3.6M579.1 1633.1v-6.2M606.9 1633.1v-3.6M623.2 1633.1v-3.6M634.7 1633.1v-3.6M643.7 1633.1v-3.6M651 1633.1v-3.6M657.2 1633.1v-3.6M662.5 1633.1v-3.6M667.2 1633.1v-3.6M671.5 1633.1v-6.2M699.3 1633.1v-3.6M715.5 1633.1v-3.6M727.1 1633.1v-3.6M736 1633.1v-3.6M743.3 1633.1v-3.6M749.5 1633.1v-3.6M754.9 1633.1v-3.6M759.6 1633.1v-3.6M763.8 1633.1v-6.2"/>
<circle cx="117.4" cy="1280.1" r="8.9"/><circle cx="135.9" cy="1288.1" r="8.9"/><circle cx="154.3" cy="1296.8" r="8.9"/><circle cx="172.8" cy="1304.1" r="8.9"/><circle cx="191.3" cy="1312.8" r="8.9"/><circle cx="209.7" cy="1321.3" r="8.9"/><circle cx="228.2" cy="1330.4" r="8.9"/><circle cx="246.7" cy="1341.2" r="8.9"/><circle cx="265.1" cy="1352.1" r="8.9"/><circle cx="283.6" cy="1363.9" r="8.9"/><circle cx="302.1" cy="1376.6" r="8.9"/><circle cx="320.6" cy="1389.3" r="8.9"/><circle cx="339" cy="1402" r="8.9"/><circle cx="357.5" cy="1416.9" r="8.9"/><circle cx="376" cy="1430.5" r="8.9"/><circle cx="394.4" cy="1444.5" r="8.9"/><circle cx="412.9" cy="1458.7" r="8.9"/><circle cx="431.4" cy="1472.8" r="8.9"/><circle cx="449.8" cy="1486.2" r="8.9"/><circle cx="468.3" cy="1500.4" r="8.9"/><circle cx="486.8" cy="1514" r="8.9"/><circle cx="505.2" cy="1527.2" r="8.9"/><circle cx="523.7" cy="1539.3" r="8.9"/><circle cx="542.2" cy="1551.1" r="8.9"/><circle cx="560.6" cy="1561.1" r="8.9"/><circle cx="579.1" cy="1569.3" r="8.9"/><circle cx="597.6" cy="1575.6" r="8.9"/><circle cx="616.1" cy="1579.2" r="8.9"/><circle cx="634.5" cy="1582" r="8.9"/><circle cx="653" cy="1583.4" r="8.9"/><circle cx="671.5" cy="1584.7" r="8.9"/><circle cx="689.9" cy="1585.6" r="8.9"/><circle cx="708.4" cy="1586.5" r="8.9"/><circle cx="726.9" cy="1586.5" r="8.9"/><circle cx="745.3" cy="1585.6" r="8.9"/><circle cx="763.8" cy="1582.9" r="8.9"/>
<circle cx="117.4" cy="1342.1" r="8.05" class="o"/><circle cx="139.7" cy="1342.1" r="8.05" class="o"/><circle cx="162" cy="1342.1" r="8.05" class="o"/><circle cx="184.3" cy="1342.4" r="8.05" class="o"/><circle cx="206.6" cy="1342.1" r="8.05" class="o"/><circle cx="228.8" cy="1345.8" r="8.05" class="o"/><circle cx="251.1" cy="1347.6" r="8.05" class="o"/><circle cx="273.4" cy="1351.2" r="8.05" class="o"/><circle cx="295.7" cy="1359.4" r="8.05" class="o"/><circle cx="318" cy="1373" r="8.05" class="o"/><circle cx="340.3" cy="1386" r="8.05" class="o"/><circle cx="362.6" cy="1399" r="8.05" class="o"/><circle cx="384.9" cy="1414.2" r="8.05" class="o"/><circle cx="407.2" cy="1429.6" r="8.05" class="o"/><circle cx="429.5" cy="1445.1" r="8.05" class="o"/><circle cx="451.7" cy="1459.6" r="8.05" class="o"/><circle cx="474" cy="1474.6" r="8.05" class="o"/><circle cx="496.3" cy="1488.9" r="8.05" class="o"/><circle cx="518.6" cy="1502.7" r="8.05" class="o"/><circle cx="540.9" cy="1516.3" r="8.05" class="o"/><circle cx="563.2" cy="1527.2" r="8.05" class="o"/><circle cx="585.5" cy="1537.2" r="8.05" class="o"/><circle cx="607.8" cy="1545.3" r="8.05" class="o"/><circle cx="630.1" cy="1552.9" r="8.05" class="o"/><circle cx="652.4" cy="1559.8" r="8.05" class="o"/><circle cx="674.6" cy="1565.6" r="8.05" class="o"/><circle cx="696.9" cy="1572" r="8.05" class="o"/><circle cx="719.2" cy="1576.5" r="8.05" class="o"/><circle cx="741.5" cy="1578.3" r="8.05" class="o"/><circle cx="763.8" cy="1580" r="8.05" class="o"/>
<path d="M108 1300.7h18.8L117.4 1317.5z"/><path d="M130.3 1306.5h18.8L139.7 1323.3z"/><path d="M152.6 1291.2h18.8L162 1308z"/><path d="M174.9 1308.6h18.8L184.3 1325.4z"/><path d="M197.2 1311.7h18.8L206.6 1328.5z"/><path d="M219.4 1323.1h18.8L228.8 1339.9z"/><path d="M241.7 1339.7h18.8L251.1 1356.5z"/><path d="M264 1351.2h18.8L273.4 1368z"/><path d="M286.3 1365.7h18.8L295.7 1382.5z"/><path d="M308.6 1382.1h18.8L318 1398.9z"/><path d="M330.9 1397.7h18.8L340.3 1414.5z"/><path d="M353.2 1414.6h18.8L362.6 1431.4z"/><path d="M375.5 1431.5h18.8L384.9 1448.3z"/><path d="M397.8 1447.8h18.8L407.2 1464.6z"/><path d="M420.1 1464.1h18.8L429.5 1480.9z"/><path d="M442.3 1480.3h18.8L451.7 1497.1z"/><path d="M464.6 1495.1h18.8L474 1511.9z"/><path d="M486.9 1509.3h18.8L496.3 1526.1z"/><path d="M509.2 1523.1h18.8L518.6 1539.9z"/><path d="M531.5 1536.7h18.8L540.9 1553.5z"/><path d="M553.8 1548.1h18.8L563.2 1564.9z"/><path d="M576.1 1557.1h18.8L585.5 1573.9z"/><path d="M598.4 1563.9h18.8L607.8 1580.7z"/><path d="M620.7 1568h18.8L630.1 1584.8z"/><path d="M643 1570.2h18.8L652.4 1587z"/><path d="M665.2 1571.7h18.8L674.6 1588.5z"/><path d="M687.5 1572.9h18.8L696.9 1589.7z"/><path d="M709.8 1573.5h18.8L719.2 1590.3z"/><path d="M732.1 1572h18.8L741.5 1588.8z"/><path d="M754.4 1572.7h18.8L763.8 1589.5z"/>
<path class="ax" d="M763.8 1166.3V1633.1M763.8 1633.1h-6.6M763.8 1622.7h-6.6M763.8 1612.4h-6.6M763.8 1602h-6.6M763.8 1591.6h-6.6M763.8 1581.2h-6.6M763.8 1570.9h-6.6M763.8 1560.5h-6.6M763.8 1550.1h-6.6M763.8 1539.7h-6.6M763.8 1529.4h-6.6M763.8 1519h-6.6M763.8 1508.6h-6.6M763.8 1498.2h-6.6M763.8 1487.9h-6.6M763.8 1477.5h-6.6M763.8 1467.1h-6.6M763.8 1456.8h-6.6M763.8 1446.4h-6.6M763.8 1436h-6.6M763.8 1425.6h-6.6M763.8 1415.3h-6.6M763.8 1404.9h-6.6M763.8 1394.5h-6.6M763.8 1384.1h-6.6M763.8 1373.8h-6.6M763.8 1363.4h-6.6M763.8 1353h-6.6M763.8 1342.6h-6.6M763.8 1332.3h-6.6M763.8 1321.9h-6.6M763.8 1311.5h-6.6M763.8 1301.2h-6.6M763.8 1290.8h-6.6M763.8 1280.4h-6.6M763.8 1270h-6.6M763.8 1259.7h-6.6M763.8 1249.3h-6.6M763.8 1238.9h-6.6M763.8 1228.5h-6.6M763.8 1218.2h-6.6M763.8 1207.8h-6.6M763.8 1197.4h-6.6M763.8 1187h-6.6M763.8 1176.7h-6.6M763.8 1166.3h-6.6"/>
<circle cx="117.4" cy="1440.5" r="8.9"/><circle cx="135.9" cy="1425.1" r="8.9"/><circle cx="154.3" cy="1416" r="8.9"/><circle cx="172.8" cy="1401" r="8.9"/><circle cx="191.3" cy="1385.7" r="8.9"/><circle cx="209.7" cy="1361.7" r="8.9"/><circle cx="228.2" cy="1339.4" r="8.9"/><circle cx="246.7" cy="1315.8" r="8.9"/><circle cx="265.1" cy="1295" r="8.9"/><circle cx="283.6" cy="1276.9" r="8.9"/><circle cx="302.1" cy="1261.1" r="8.9"/><circle cx="320.6" cy="1247.8" r="8.9"/><circle cx="339" cy="1237.9" r="8.9"/><circle cx="357.5" cy="1230.6" r="8.9"/><circle cx="376" cy="1225.7" r="8.9"/><circle cx="394.4" cy="1223.4" r="8.9"/><circle cx="412.9" cy="1223.4" r="8.9"/><circle cx="431.4" cy="1224.6" r="8.9"/><circle cx="449.8" cy="1230.6" r="8.9"/><circle cx="468.3" cy="1238.8" r="8.9"/><circle cx="486.8" cy="1252.7" r="8.9"/><circle cx="505.2" cy="1271.4" r="8.9"/><circle cx="523.7" cy="1297.7" r="8.9"/><circle cx="542.2" cy="1332.2" r="8.9"/><circle cx="560.6" cy="1373.9" r="8.9"/><circle cx="579.1" cy="1420.9" r="8.9"/><circle cx="597.6" cy="1466.8" r="8.9"/><circle cx="616.1" cy="1508.2" r="8.9"/><circle cx="634.5" cy="1540.2" r="8.9"/><circle cx="653" cy="1564.7" r="8.9"/><circle cx="671.5" cy="1578.3" r="8.9"/><circle cx="689.9" cy="1593.7" r="8.9"/><circle cx="708.4" cy="1597.4" r="8.9"/><circle cx="726.9" cy="1598.3" r="8.9"/><circle cx="745.3" cy="1593.7" r="8.9"/><circle cx="763.8" cy="1585.6" r="8.9"/>
<circle cx="117.4" cy="1626.4" r="8.05" class="o"/><circle cx="139.7" cy="1622.2" r="8.05" class="o"/><circle cx="162" cy="1615.5" r="8.05" class="o"/><circle cx="184.3" cy="1604.3" r="8.05" class="o"/><circle cx="206.6" cy="1586.8" r="8.05" class="o"/><circle cx="228.8" cy="1559.8" r="8.05" class="o"/><circle cx="251.1" cy="1520.7" r="8.05" class="o"/><circle cx="273.4" cy="1468.1" r="8.05" class="o"/><circle cx="295.7" cy="1409.1" r="8.05" class="o"/><circle cx="318" cy="1359.9" r="8.05" class="o"/><circle cx="340.3" cy="1319.5" r="8.05" class="o"/><circle cx="362.6" cy="1301.9" r="8.05" class="o"/><circle cx="384.9" cy="1281.4" r="8.05" class="o"/><circle cx="407.2" cy="1271.8" r="8.05" class="o"/><circle cx="429.5" cy="1268.3" r="8.05" class="o"/><circle cx="451.7" cy="1272.3" r="8.05" class="o"/><circle cx="474" cy="1277.8" r="8.05" class="o"/><circle cx="496.3" cy="1293.2" r="8.05" class="o"/><circle cx="518.6" cy="1313.1" r="8.05" class="o"/><circle cx="540.9" cy="1340.3" r="8.05" class="o"/><circle cx="563.2" cy="1370.8" r="8.05" class="o"/><circle cx="585.5" cy="1400" r="8.05" class="o"/><circle cx="607.8" cy="1423.8" r="8.05" class="o"/><circle cx="630.1" cy="1444.5" r="8.05" class="o"/><circle cx="652.4" cy="1461.4" r="8.05" class="o"/><circle cx="674.6" cy="1479.5" r="8.05" class="o"/><circle cx="696.9" cy="1500.7" r="8.05" class="o"/><circle cx="719.2" cy="1523.4" r="8.05" class="o"/><circle cx="741.5" cy="1548.9" r="8.05" class="o"/><circle cx="763.8" cy="1567.4" r="8.05" class="o"/>
<path d="M108 1534.8h18.8L117.4 1551.6z"/><path d="M130.3 1530h18.8L139.7 1546.8z"/><path d="M152.6 1522h18.8L162 1538.8z"/><path d="M174.9 1467.4h18.8L184.3 1484.2z"/><path d="M197.2 1341.6h18.8L206.6 1358.4z"/><path d="M219.4 1361.4h18.8L228.8 1378.2z"/><path d="M241.7 1339.7h18.8L251.1 1356.5z"/><path d="M264 1280.5h18.8L273.4 1297.3z"/><path d="M286.3 1253.3h18.8L295.7 1270.1z"/><path d="M308.6 1242.3h18.8L318 1259.1z"/><path d="M330.9 1233.9h18.8L340.3 1250.7z"/><path d="M353.2 1228.5h18.8L362.6 1245.3z"/><path d="M375.5 1228.9h18.8L384.9 1245.7z"/><path d="M397.8 1232.8h18.8L407.2 1249.6z"/><path d="M420.1 1239.7h18.8L429.5 1256.5z"/><path d="M442.3 1251h18.8L451.7 1267.8z"/><path d="M464.6 1265.5h18.8L474 1282.3z"/><path d="M486.9 1284.2h18.8L496.3 1301z"/><path d="M509.2 1308.6h18.8L518.6 1325.4z"/><path d="M531.5 1342.2h18.8L540.9 1359z"/><path d="M553.8 1383.5h18.8L563.2 1400.3z"/><path d="M576.1 1433.8h18.8L585.5 1450.6z"/><path d="M598.4 1480.6h18.8L607.8 1497.4z"/><path d="M620.7 1526h18.8L630.1 1542.8z"/><path d="M643 1557.3h18.8L652.4 1574.1z"/><path d="M665.2 1580.7h18.8L674.6 1597.5z"/><path d="M687.5 1597h18.8L696.9 1613.8z"/><path d="M709.8 1606.1h18.8L719.2 1622.9z"/><path d="M732.1 1614.3h18.8L741.5 1631.1z"/><path d="M754.4 1610.1h18.8L763.8 1626.9z"/>
<circle cx="572" cy="1206.1" r="8.9"/>
<text x="617.5" y="1215.6" class="lg">NSS</text>
<circle cx="572" cy="1241" r="8.05" class="o"/>
<text x="617.5" y="1250.6" class="lg">AASS</text>
<path d="M562.6 1270.6h18.8L572 1287.4z"/>
<text x="617.5" y="1285" class="lg">prohesion</text>
<text x="103.8" y="1642.9" font-size="27.5" text-anchor="end">10<tspan font-size="18.4" dx="0.5" dy="-9.1">1</tspan></text>
<text x="103.8" y="1565.1" font-size="27.5" text-anchor="end">10<tspan font-size="18.4" dx="0.5" dy="-9.1">2</tspan></text>
<text x="103.8" y="1487.3" font-size="27.5" text-anchor="end">10<tspan font-size="18.4" dx="0.5" dy="-9.1">3</tspan></text>
<text x="103.8" y="1409.5" font-size="27.5" text-anchor="end">10<tspan font-size="18.4" dx="0.5" dy="-9.1">4</tspan></text>
<text x="103.8" y="1331.7" font-size="27.5" text-anchor="end">10<tspan font-size="18.4" dx="0.5" dy="-9.1">5</tspan></text>
<text x="103.8" y="1253.9" font-size="27.5" text-anchor="end">10<tspan font-size="18.4" dx="0.5" dy="-9.1">6</tspan></text>
<text x="103.8" y="1176.1" font-size="27.5" text-anchor="end">10<tspan font-size="18.4" dx="0.5" dy="-9.1">7</tspan></text>
<text x="117.4" y="1671.6" font-size="27.5" text-anchor="middle">10<tspan font-size="18.4" dx="0.5" dy="-9.1">-2</tspan></text>
<text x="209.7" y="1671.6" font-size="27.5" text-anchor="middle">10<tspan font-size="18.4" dx="0.5" dy="-9.1">-1</tspan></text>
<text x="302.1" y="1671.6" font-size="27.5" text-anchor="middle">10<tspan font-size="18.4" dx="0.5" dy="-9.1">0</tspan></text>
<text x="394.4" y="1671.6" font-size="27.5" text-anchor="middle">10<tspan font-size="18.4" dx="0.5" dy="-9.1">1</tspan></text>
<text x="486.8" y="1671.6" font-size="27.5" text-anchor="middle">10<tspan font-size="18.4" dx="0.5" dy="-9.1">2</tspan></text>
<text x="579.1" y="1671.6" font-size="27.5" text-anchor="middle">10<tspan font-size="18.4" dx="0.5" dy="-9.1">3</tspan></text>
<text x="671.5" y="1671.6" font-size="27.5" text-anchor="middle">10<tspan font-size="18.4" dx="0.5" dy="-9.1">4</tspan></text>
<text x="763.8" y="1671.6" font-size="27.5" text-anchor="middle">10<tspan font-size="18.4" dx="0.5" dy="-9.1">5</tspan></text>
<text x="777.3" y="1643" font-size="27.6">0</text>
<text x="777.3" y="1591.1" font-size="27.6">10</text>
<text x="777.3" y="1539.2" font-size="27.6">20</text>
<text x="777.3" y="1487.4" font-size="27.6">30</text>
<text x="777.3" y="1435.5" font-size="27.6">40</text>
<text x="777.3" y="1383.6" font-size="27.6">50</text>
<text x="777.3" y="1331.8" font-size="27.6">60</text>
<text x="777.3" y="1279.9" font-size="27.6">70</text>
<text x="777.3" y="1228" font-size="27.6">80</text>
<text x="777.3" y="1176.2" font-size="27.6">90</text>
<text x="149.6" y="1211.8" class="b" font-size="55" text-anchor="start">c</text>
<text transform="translate(29,1471.1) rotate(-90)" class="b" font-size="28" text-anchor="start">log|<tspan font-size="26.9">Ω</tspan>.cm<tspan dx="0" dy="-9.8" font-size="28.0">2</tspan><tspan dx="0" dy="9.8">|</tspan></text>
<text transform="translate(860.3,1489.3) rotate(-90)" class="b" font-size="27.7" text-anchor="start">- phase (deg.)</text>
<text x="361.8" y="1717" class="b" font-size="27.45" text-anchor="start">frequency/Hz</text>
</g>
<g id="panel-d">
<path class="ax" d="M1066.6 479.8V12.2H1712.6M1066.6 479.8H1712.6M1066.6 479.8h6.9M1066.6 456.3h4.6M1066.6 442.6h4.6M1066.6 432.9h4.6M1066.6 425.3h4.6M1066.6 419.2h4.6M1066.6 413.9h4.6M1066.6 409.4h4.6M1066.6 405.4h4.6M1066.6 401.9h6.9M1066.6 378.4h4.6M1066.6 364.7h4.6M1066.6 354.9h4.6M1066.6 347.4h4.6M1066.6 341.2h4.6M1066.6 336h4.6M1066.6 331.5h4.6M1066.6 327.5h4.6M1066.6 323.9h6.9M1066.6 300.5h4.6M1066.6 286.7h4.6M1066.6 277h4.6M1066.6 269.5h4.6M1066.6 263.3h4.6M1066.6 258.1h4.6M1066.6 253.6h4.6M1066.6 249.6h4.6M1066.6 246h6.9M1066.6 222.5h4.6M1066.6 208.8h4.6M1066.6 199.1h4.6M1066.6 191.5h4.6M1066.6 185.4h4.6M1066.6 180.1h4.6M1066.6 175.6h4.6M1066.6 171.6h4.6M1066.6 168.1h6.9M1066.6 144.6h4.6M1066.6 130.9h4.6M1066.6 121.1h4.6M1066.6 113.6h4.6M1066.6 107.4h4.6M1066.6 102.2h4.6M1066.6 97.7h4.6M1066.6 93.7h4.6M1066.6 90.1h6.9M1066.6 66.7h4.6M1066.6 52.9h4.6M1066.6 43.2h4.6M1066.6 35.7h4.6M1066.6 29.5h4.6M1066.6 24.3h4.6M1066.6 19.8h4.6M1066.6 15.8h4.6M1066.6 12.2h6.9M1066.6 479.8v-6.9M1094.4 479.8v-6.9M1110.6 479.8v-6.9M1122.2 479.8v-6.9M1131.1 479.8v-6.9M1138.4 479.8v-6.9M1144.6 479.8v-6.9M1149.9 479.8v-6.9M1154.7 479.8v-6.9M1158.9 479.8v-6.9M1186.7 479.8v-6.9M1202.9 479.8v-6.9M1214.4 479.8v-6.9M1223.4 479.8v-6.9M1230.7 479.8v-6.9M1236.9 479.8v-6.9M1242.2 479.8v-6.9M1246.9 479.8v-6.9M1251.2 479.8v-6.9M1279 479.8v-6.9M1295.2 479.8v-6.9M1306.7 479.8v-6.9M1315.7 479.8v-6.9M1323 479.8v-6.9M1329.2 479.8v-6.9M1334.5 479.8v-6.9M1339.2 479.8v-6.9M1343.5 479.8v-6.9M1371.2 479.8v-6.9M1387.5 479.8v-6.9M1399 479.8v-6.9M1408 479.8v-6.9M1415.3 479.8v-6.9M1421.4 479.8v-6.9M1426.8 479.8v-6.9M1431.5 479.8v-6.9M1435.7 479.8v-6.9M1463.5 479.8v-6.9M1479.8 479.8v-6.9M1491.3 479.8v-6.9M1500.2 479.8v-6.9M1507.6 479.8v-6.9M1513.7 479.8v-6.9M1519.1 479.8v-6.9M1523.8 479.8v-6.9M1528 479.8v-6.9M1555.8 479.8v-6.9M1572.1 479.8v-6.9M1583.6 479.8v-6.9M1592.5 479.8v-6.9M1599.8 479.8v-6.9M1606 479.8v-6.9M1611.4 479.8v-6.9M1616.1 479.8v-6.9M1620.3 479.8v-6.9M1648.1 479.8v-6.9M1664.3 479.8v-6.9M1675.9 479.8v-6.9M1684.8 479.8v-6.9M1692.1 479.8v-6.9M1698.3 479.8v-6.9M1703.7 479.8v-6.9M1708.4 479.8v-6.9M1712.6 479.8v-6.9"/>
<circle cx="1066.6" cy="107.4" r="8.9"/><circle cx="1085.1" cy="108.7" r="8.9"/><circle cx="1103.5" cy="119.6" r="8.9"/><circle cx="1122" cy="124.7" r="8.9"/><circle cx="1140.4" cy="133.7" r="8.9"/><circle cx="1158.9" cy="140.4" r="8.9"/><circle cx="1177.3" cy="148.8" r="8.9"/><circle cx="1195.8" cy="153.7" r="8.9"/><circle cx="1214.3" cy="159.7" r="8.9"/><circle cx="1232.7" cy="164" r="8.9"/><circle cx="1251.2" cy="167.6" r="8.9"/><circle cx="1269.6" cy="170.5" r="8.9"/><circle cx="1288.1" cy="174" r="8.9"/><circle cx="1306.5" cy="177.3" r="8.9"/><circle cx="1325" cy="180.9" r="8.9"/><circle cx="1343.5" cy="185.4" r="8.9"/><circle cx="1361.9" cy="190.9" r="8.9"/><circle cx="1380.4" cy="197.2" r="8.9"/><circle cx="1398.8" cy="203.5" r="8.9"/><circle cx="1417.3" cy="211.3" r="8.9"/><circle cx="1435.7" cy="218.6" r="8.9"/><circle cx="1454.2" cy="225.9" r="8.9"/><circle cx="1472.7" cy="233.1" r="8.9"/><circle cx="1491.1" cy="241.5" r="8.9"/><circle cx="1509.6" cy="249" r="8.9"/><circle cx="1528" cy="260.2" r="8.9"/><circle cx="1546.5" cy="269.8" r="8.9"/><circle cx="1564.9" cy="279.8" r="8.9"/><circle cx="1583.4" cy="290.1" r="8.9"/><circle cx="1601.9" cy="301" r="8.9"/><circle cx="1620.3" cy="312.3" r="8.9"/><circle cx="1638.8" cy="324.2" r="8.9"/><circle cx="1657.2" cy="336.4" r="8.9"/><circle cx="1675.7" cy="348.7" r="8.9"/><circle cx="1694.1" cy="361.8" r="8.9"/><circle cx="1712.6" cy="375" r="8.9"/>
<circle cx="1066.6" cy="212.3" r="8.05" class="o"/><circle cx="1085.1" cy="212.3" r="8.05" class="o"/><circle cx="1103.5" cy="212.3" r="8.05" class="o"/><circle cx="1122" cy="212.3" r="8.05" class="o"/><circle cx="1140.4" cy="213.2" r="8.05" class="o"/><circle cx="1158.9" cy="212.6" r="8.05" class="o"/><circle cx="1177.3" cy="213.2" r="8.05" class="o"/><circle cx="1195.8" cy="224" r="8.05" class="o"/><circle cx="1214.3" cy="217.1" r="8.05" class="o"/><circle cx="1232.7" cy="220.8" r="8.05" class="o"/><circle cx="1251.2" cy="223.5" r="8.05" class="o"/><circle cx="1269.6" cy="227.1" r="8.05" class="o"/><circle cx="1288.1" cy="231.1" r="8.05" class="o"/><circle cx="1306.5" cy="236.2" r="8.05" class="o"/><circle cx="1325" cy="244" r="8.05" class="o"/><circle cx="1343.5" cy="249.6" r="8.05" class="o"/><circle cx="1361.9" cy="258.4" r="8.05" class="o"/><circle cx="1380.4" cy="268.7" r="8.05" class="o"/><circle cx="1398.8" cy="280" r="8.05" class="o"/><circle cx="1417.3" cy="290.5" r="8.05" class="o"/><circle cx="1435.7" cy="301.9" r="8.05" class="o"/><circle cx="1454.2" cy="314.3" r="8.05" class="o"/><circle cx="1472.7" cy="326.8" r="8.05" class="o"/><circle cx="1491.1" cy="339.1" r="8.05" class="o"/><circle cx="1509.6" cy="351.4" r="8.05" class="o"/><circle cx="1528" cy="363.6" r="8.05" class="o"/><circle cx="1546.5" cy="375.9" r="8.05" class="o"/><circle cx="1564.9" cy="387.7" r="8.05" class="o"/><circle cx="1583.4" cy="398.4" r="8.05" class="o"/><circle cx="1601.9" cy="407.1" r="8.05" class="o"/><circle cx="1620.3" cy="414.3" r="8.05" class="o"/><circle cx="1638.8" cy="420.3" r="8.05" class="o"/><circle cx="1657.2" cy="424.9" r="8.05" class="o"/><circle cx="1675.7" cy="428.3" r="8.05" class="o"/><circle cx="1694.1" cy="430.7" r="8.05" class="o"/><circle cx="1712.6" cy="431.6" r="8.05" class="o"/>
<path d="M1057.2 49.6h18.8L1066.6 66.4z"/><path d="M1075.7 73.6h18.8L1085.1 90.4z"/><path d="M1094.1 86.3h18.8L1103.5 103.1z"/><path d="M1112.6 97.2h18.8L1122 114z"/><path d="M1131 106.8h18.8L1140.4 123.6z"/><path d="M1149.5 114.9h18.8L1158.9 131.7z"/><path d="M1167.9 122.2h18.8L1177.3 139z"/><path d="M1186.4 128.2h18.8L1195.8 145z"/><path d="M1204.9 133.1h18.8L1214.3 149.9z"/><path d="M1223.3 136.7h18.8L1232.7 153.5z"/><path d="M1241.8 139.4h18.8L1251.2 156.2z"/><path d="M1260.2 141.8h18.8L1269.6 158.6z"/><path d="M1278.7 143.9h18.8L1288.1 160.7z"/><path d="M1297.1 146.1h18.8L1306.5 162.9z"/><path d="M1315.6 148.5h18.8L1325 165.3z"/><path d="M1334.1 150.8h18.8L1343.5 167.6z"/><path d="M1352.5 153.9h18.8L1361.9 170.7z"/><path d="M1371 157.5h18.8L1380.4 174.3z"/><path d="M1389.4 160.8h18.8L1398.8 177.6z"/><path d="M1407.9 166.8h18.8L1417.3 183.6z"/><path d="M1426.3 173.1h18.8L1435.7 189.9z"/><path d="M1444.8 179.7h18.8L1454.2 196.5z"/><path d="M1463.3 187.3h18.8L1472.7 204.1z"/><path d="M1481.7 195.6h18.8L1491.1 212.4z"/><path d="M1500.2 204.9h18.8L1509.6 221.7z"/><path d="M1518.6 215.9h18.8L1528 232.7z"/><path d="M1537.1 226.8h18.8L1546.5 243.6z"/><path d="M1555.5 239h18.8L1564.9 255.8z"/><path d="M1574 251h18.8L1583.4 267.8z"/><path d="M1592.5 264.4h18.8L1601.9 281.2z"/><path d="M1610.9 277.7h18.8L1620.3 294.5z"/><path d="M1629.4 290.9h18.8L1638.8 307.7z"/><path d="M1647.8 304.9h18.8L1657.2 321.7z"/><path d="M1666.3 318.8h18.8L1675.7 335.6z"/><path d="M1684.7 333h18.8L1694.1 349.8z"/><path d="M1703.2 347.5h18.8L1712.6 364.3z"/>
<path class="ax" d="M1712.6 12.2V479.8M1712.6 479.8h-7.4M1712.6 469.4h-7.4M1712.6 459h-7.4M1712.6 448.6h-7.4M1712.6 438.2h-7.4M1712.6 427.8h-7.4M1712.6 417.5h-7.4M1712.6 407.1h-7.4M1712.6 396.7h-7.4M1712.6 386.3h-7.4M1712.6 375.9h-7.4M1712.6 365.5h-7.4M1712.6 355.1h-7.4M1712.6 344.7h-7.4M1712.6 334.3h-7.4M1712.6 323.9h-7.4M1712.6 313.5h-7.4M1712.6 303.2h-7.4M1712.6 292.8h-7.4M1712.6 282.4h-7.4M1712.6 272h-7.4M1712.6 261.6h-7.4M1712.6 251.2h-7.4M1712.6 240.8h-7.4M1712.6 230.4h-7.4M1712.6 220h-7.4M1712.6 209.6h-7.4M1712.6 199.2h-7.4M1712.6 188.8h-7.4M1712.6 178.5h-7.4M1712.6 168.1h-7.4M1712.6 157.7h-7.4M1712.6 147.3h-7.4M1712.6 136.9h-7.4M1712.6 126.5h-7.4M1712.6 116.1h-7.4M1712.6 105.7h-7.4M1712.6 95.3h-7.4M1712.6 84.9h-7.4M1712.6 74.5h-7.4M1712.6 64.2h-7.4M1712.6 53.8h-7.4M1712.6 43.4h-7.4M1712.6 33h-7.4M1712.6 22.6h-7.4M1712.6 12.2h-7.4"/>
<circle cx="1066.6" cy="242" r="8.9"/><circle cx="1085.1" cy="244.1" r="8.9"/><circle cx="1103.5" cy="244.4" r="8.9"/><circle cx="1122" cy="254.8" r="8.9"/><circle cx="1140.4" cy="250.6" r="8.9"/><circle cx="1158.9" cy="272.9" r="8.9"/><circle cx="1177.3" cy="288.3" r="8.9"/><circle cx="1195.8" cy="301.9" r="8.9"/><circle cx="1214.3" cy="319.5" r="8.9"/><circle cx="1232.7" cy="340" r="8.9"/><circle cx="1251.2" cy="351.4" r="8.9"/><circle cx="1269.6" cy="359" r="8.9"/><circle cx="1288.1" cy="359" r="8.9"/><circle cx="1306.5" cy="352.3" r="8.9"/><circle cx="1325" cy="340.9" r="8.9"/><circle cx="1343.5" cy="325.5" r="8.9"/><circle cx="1361.9" cy="308.3" r="8.9"/><circle cx="1380.4" cy="292" r="8.9"/><circle cx="1398.8" cy="277.8" r="8.9"/><circle cx="1417.3" cy="264.4" r="8.9"/><circle cx="1435.7" cy="254.8" r="8.9"/><circle cx="1454.2" cy="243" r="8.9"/><circle cx="1472.7" cy="232.5" r="8.9"/><circle cx="1491.1" cy="220.8" r="8.9"/><circle cx="1509.6" cy="209" r="8.9"/><circle cx="1528" cy="197.8" r="8.9"/><circle cx="1546.5" cy="185.8" r="8.9"/><circle cx="1564.9" cy="173.6" r="8.9"/><circle cx="1583.4" cy="162.4" r="8.9"/><circle cx="1601.9" cy="151" r="8.9"/><circle cx="1620.3" cy="139.7" r="8.9"/><circle cx="1638.8" cy="128.7" r="8.9"/><circle cx="1657.2" cy="118.3" r="8.9"/><circle cx="1675.7" cy="107.4" r="8.9"/><circle cx="1694.1" cy="103.8" r="8.9"/><circle cx="1712.6" cy="102.6" r="8.9"/>
<circle cx="1066.6" cy="476" r="8.05" class="o"/><circle cx="1085.1" cy="475.1" r="8.05" class="o"/><circle cx="1103.5" cy="473.3" r="8.05" class="o"/><circle cx="1122" cy="470.2" r="8.05" class="o"/><circle cx="1140.4" cy="466.6" r="8.05" class="o"/><circle cx="1158.9" cy="461.1" r="8.05" class="o"/><circle cx="1177.3" cy="453.3" r="8.05" class="o"/><circle cx="1195.8" cy="472.9" r="8.05" class="o"/><circle cx="1214.3" cy="449.3" r="8.05" class="o"/><circle cx="1232.7" cy="412.5" r="8.05" class="o"/><circle cx="1251.2" cy="404" r="8.05" class="o"/><circle cx="1269.6" cy="359.4" r="8.05" class="o"/><circle cx="1288.1" cy="344.5" r="8.05" class="o"/><circle cx="1306.5" cy="309.2" r="8.05" class="o"/><circle cx="1325" cy="277.8" r="8.05" class="o"/><circle cx="1343.5" cy="248.4" r="8.05" class="o"/><circle cx="1361.9" cy="213.9" r="8.05" class="o"/><circle cx="1380.4" cy="188.1" r="8.05" class="o"/><circle cx="1398.8" cy="166.7" r="8.05" class="o"/><circle cx="1417.3" cy="151" r="8.05" class="o"/><circle cx="1435.7" cy="138.3" r="8.05" class="o"/><circle cx="1454.2" cy="129.2" r="8.05" class="o"/><circle cx="1472.7" cy="123.8" r="8.05" class="o"/><circle cx="1491.1" cy="122" r="8.05" class="o"/><circle cx="1509.6" cy="125" r="8.05" class="o"/><circle cx="1528" cy="134.1" r="8.05" class="o"/><circle cx="1546.5" cy="150.6" r="8.05" class="o"/><circle cx="1564.9" cy="174" r="8.05" class="o"/><circle cx="1583.4" cy="203.6" r="8.05" class="o"/><circle cx="1601.9" cy="238.5" r="8.05" class="o"/><circle cx="1620.3" cy="277.1" r="8.05" class="o"/><circle cx="1638.8" cy="313.4" r="8.05" class="o"/><circle cx="1657.2" cy="346.9" r="8.05" class="o"/><circle cx="1675.7" cy="374.8" r="8.05" class="o"/><circle cx="1694.1" cy="397.1" r="8.05" class="o"/><circle cx="1712.6" cy="413.4" r="8.05" class="o"/>
<path d="M1057.2 137.2h18.8L1066.6 154z"/><path d="M1075.7 151.5h18.8L1085.1 168.3z"/><path d="M1094.1 160.6h18.8L1103.5 177.4z"/><path d="M1112.6 185.3h18.8L1122 202.1z"/><path d="M1131 215.6h18.8L1140.4 232.4z"/><path d="M1149.5 245h18.8L1158.9 261.8z"/><path d="M1167.9 275.9h18.8L1177.3 292.7z"/><path d="M1186.4 308.5h18.8L1195.8 325.3z"/><path d="M1204.9 333h18.8L1214.3 349.8z"/><path d="M1223.3 356.5h18.8L1232.7 373.3z"/><path d="M1241.8 374.1h18.8L1251.2 390.9z"/><path d="M1260.2 385.9h18.8L1269.6 402.7z"/><path d="M1278.7 391.4h18.8L1288.1 408.2z"/><path d="M1297.1 391h18.8L1306.5 407.8z"/><path d="M1315.6 386.5h18.8L1325 403.3z"/><path d="M1334.1 376.5h18.8L1343.5 393.3z"/><path d="M1352.5 362.4h18.8L1361.9 379.2z"/><path d="M1371 344.2h18.8L1380.4 361z"/><path d="M1389.4 324.3h18.8L1398.8 341.1z"/><path d="M1407.9 302.2h18.8L1417.3 319z"/><path d="M1426.3 275.3h18.8L1435.7 292.1z"/><path d="M1444.8 253.6h18.8L1454.2 270.4z"/><path d="M1463.3 228.2h18.8L1472.7 245z"/><path d="M1481.7 203.6h18.8L1491.1 220.4z"/><path d="M1500.2 179.5h18.8L1509.6 196.3z"/><path d="M1518.6 157.9h18.8L1528 174.7z"/><path d="M1537.1 138h18.8L1546.5 154.8z"/><path d="M1555.5 119.8h18.8L1564.9 136.6z"/><path d="M1574 104.8h18.8L1583.4 121.6z"/><path d="M1592.5 91.7h18.8L1601.9 108.5z"/><path d="M1610.9 81.7h18.8L1620.3 98.5z"/><path d="M1629.4 75.2h18.8L1638.8 92z"/><path d="M1647.8 69.8h18.8L1657.2 86.6z"/><path d="M1666.3 68.5h18.8L1675.7 85.3z"/><path d="M1684.7 72.1h18.8L1694.1 88.9z"/><path d="M1703.2 73h18.8L1712.6 89.8z"/>
<circle cx="1392.1" cy="373.6" r="8.9"/>
<text x="1437.4" y="382.6" class="lg">NSS</text>
<circle cx="1392.1" cy="408.4" r="8.05" class="o"/>
<text x="1437.4" y="417.1" class="lg">AASS</text>
<path d="M1382.7 437.8h18.8L1392.1 454.6z"/>
<text x="1437.4" y="452.4" class="lg">Prohesion</text>
<text x="1053" y="489.6" font-size="27.5" text-anchor="end">10<tspan font-size="18.4" dx="0.5" dy="-9.1">1</tspan></text>
<text x="1053" y="411.7" font-size="27.5" text-anchor="end">10<tspan font-size="18.4" dx="0.5" dy="-9.1">2</tspan></text>
<text x="1053" y="333.7" font-size="27.5" text-anchor="end">10<tspan font-size="18.4" dx="0.5" dy="-9.1">3</tspan></text>
<text x="1053" y="255.8" font-size="27.5" text-anchor="end">10<tspan font-size="18.4" dx="0.5" dy="-9.1">4</tspan></text>
<text x="1053" y="177.9" font-size="27.5" text-anchor="end">10<tspan font-size="18.4" dx="0.5" dy="-9.1">5</tspan></text>
<text x="1053" y="99.9" font-size="27.5" text-anchor="end">10<tspan font-size="18.4" dx="0.5" dy="-9.1">6</tspan></text>
<text x="1053" y="22" font-size="27.5" text-anchor="end">10<tspan font-size="18.4" dx="0.5" dy="-9.1">7</tspan></text>
<text x="1066.6" y="518.3" font-size="27.5" text-anchor="middle">10<tspan font-size="18.4" dx="0.5" dy="-9.1">-2</tspan></text>
<text x="1158.9" y="518.3" font-size="27.5" text-anchor="middle">10<tspan font-size="18.4" dx="0.5" dy="-9.1">-1</tspan></text>
<text x="1251.2" y="518.3" font-size="27.5" text-anchor="middle">10<tspan font-size="18.4" dx="0.5" dy="-9.1">0</tspan></text>
<text x="1343.5" y="518.3" font-size="27.5" text-anchor="middle">10<tspan font-size="18.4" dx="0.5" dy="-9.1">1</tspan></text>
<text x="1435.7" y="518.3" font-size="27.5" text-anchor="middle">10<tspan font-size="18.4" dx="0.5" dy="-9.1">2</tspan></text>
<text x="1528" y="518.3" font-size="27.5" text-anchor="middle">10<tspan font-size="18.4" dx="0.5" dy="-9.1">3</tspan></text>
<text x="1620.3" y="518.3" font-size="27.5" text-anchor="middle">10<tspan font-size="18.4" dx="0.5" dy="-9.1">4</tspan></text>
<text x="1712.6" y="518.3" font-size="27.5" text-anchor="middle">10<tspan font-size="18.4" dx="0.5" dy="-9.1">5</tspan></text>
<text x="1726.1" y="489.7" font-size="27.6">0</text>
<text x="1726.1" y="437.7" font-size="27.6">10</text>
<text x="1726.1" y="385.8" font-size="27.6">20</text>
<text x="1726.1" y="333.8" font-size="27.6">30</text>
<text x="1726.1" y="281.9" font-size="27.6">40</text>
<text x="1726.1" y="229.9" font-size="27.6">50</text>
<text x="1726.1" y="177.9" font-size="27.6">60</text>
<text x="1726.1" y="126" font-size="27.6">70</text>
<text x="1726.1" y="74" font-size="27.6">80</text>
<text x="1726.1" y="22.1" font-size="27.6">90</text>
<text x="1090.3" y="69.4" class="b" font-size="55" text-anchor="start">d</text>
<text transform="translate(977.7,330.2) rotate(-90)" class="b" font-size="27.8" text-anchor="start">log|Z/<tspan font-size="26.7">Ω</tspan>.cm<tspan dx="0" dy="-9.7" font-size="27.8">2</tspan><tspan dx="0" dy="9.7">|</tspan></text>
<text transform="translate(1809.5,334.8) rotate(-90)" class="b" font-size="27.4" text-anchor="start">- phase (deg.)</text>
<text x="1313.6" y="553.8" class="b" font-size="27.45" text-anchor="start">Frequency/Hz</text>
</g>
<g id="panel-e">
<path class="ax" d="M1066.6 1043.1V576.1H1712.6M1066.6 1043.1H1712.6M1066.6 1043.1h7.6M1066.6 1019.7h7.6M1066.6 1006h7.6M1066.6 996.2h7.6M1066.6 988.7h7.6M1066.6 982.5h7.6M1066.6 977.3h7.6M1066.6 972.8h7.6M1066.6 968.8h7.6M1066.6 965.3h7.6M1066.6 941.8h7.6M1066.6 928.1h7.6M1066.6 918.4h7.6M1066.6 910.9h7.6M1066.6 904.7h7.6M1066.6 899.5h7.6M1066.6 895h7.6M1066.6 891h7.6M1066.6 887.4h7.6M1066.6 864h7.6M1066.6 850.3h7.6M1066.6 840.6h7.6M1066.6 833h7.6M1066.6 826.9h7.6M1066.6 821.7h7.6M1066.6 817.1h7.6M1066.6 813.2h7.6M1066.6 809.6h7.6M1066.6 786.2h7.6M1066.6 772.5h7.6M1066.6 762.7h7.6M1066.6 755.2h7.6M1066.6 749h7.6M1066.6 743.8h7.6M1066.6 739.3h7.6M1066.6 735.3h7.6M1066.6 731.8h7.6M1066.6 708.3h7.6M1066.6 694.6h7.6M1066.6 684.9h7.6M1066.6 677.4h7.6M1066.6 671.2h7.6M1066.6 666h7.6M1066.6 661.5h7.6M1066.6 657.5h7.6M1066.6 653.9h7.6M1066.6 630.5h7.6M1066.6 616.8h7.6M1066.6 607.1h7.6M1066.6 599.5h7.6M1066.6 593.4h7.6M1066.6 588.2h7.6M1066.6 583.6h7.6M1066.6 579.7h7.6M1066.6 576.1h7.6M1066.6 1043.1v-7.2M1094.4 1043.1v-7.2M1110.6 1043.1v-7.2M1122.2 1043.1v-7.2M1131.1 1043.1v-7.2M1138.4 1043.1v-7.2M1144.6 1043.1v-7.2M1149.9 1043.1v-7.2M1154.7 1043.1v-7.2M1158.9 1043.1v-7.2M1186.7 1043.1v-7.2M1202.9 1043.1v-7.2M1214.4 1043.1v-7.2M1223.4 1043.1v-7.2M1230.7 1043.1v-7.2M1236.9 1043.1v-7.2M1242.2 1043.1v-7.2M1246.9 1043.1v-7.2M1251.2 1043.1v-7.2M1279 1043.1v-7.2M1295.2 1043.1v-7.2M1306.7 1043.1v-7.2M1315.7 1043.1v-7.2M1323 1043.1v-7.2M1329.2 1043.1v-7.2M1334.5 1043.1v-7.2M1339.2 1043.1v-7.2M1343.5 1043.1v-7.2M1371.2 1043.1v-7.2M1387.5 1043.1v-7.2M1399 1043.1v-7.2M1408 1043.1v-7.2M1415.3 1043.1v-7.2M1421.4 1043.1v-7.2M1426.8 1043.1v-7.2M1431.5 1043.1v-7.2M1435.7 1043.1v-7.2M1463.5 1043.1v-7.2M1479.8 1043.1v-7.2M1491.3 1043.1v-7.2M1500.2 1043.1v-7.2M1507.6 1043.1v-7.2M1513.7 1043.1v-7.2M1519.1 1043.1v-7.2M1523.8 1043.1v-7.2M1528 1043.1v-7.2M1555.8 1043.1v-7.2M1572.1 1043.1v-7.2M1583.6 1043.1v-7.2M1592.5 1043.1v-7.2M1599.8 1043.1v-7.2M1606 1043.1v-7.2M1611.4 1043.1v-7.2M1616.1 1043.1v-7.2M1620.3 1043.1v-7.2M1648.1 1043.1v-7.2M1664.3 1043.1v-7.2M1675.9 1043.1v-7.2M1684.8 1043.1v-7.2M1692.1 1043.1v-7.2M1698.3 1043.1v-7.2M1703.7 1043.1v-7.2M1708.4 1043.1v-7.2M1712.6 1043.1v-7.2"/>
<circle cx="1085.1" cy="673.8" r="8.9"/><circle cx="1103.5" cy="680" r="8.9"/><circle cx="1122" cy="686.5" r="8.9"/><circle cx="1140.4" cy="694.1" r="8.9"/><circle cx="1158.9" cy="702.8" r="8.9"/><circle cx="1177.3" cy="707.7" r="8.9"/><circle cx="1195.8" cy="714.1" r="8.9"/><circle cx="1214.3" cy="719" r="8.9"/><circle cx="1232.7" cy="722.2" r="8.9"/><circle cx="1251.2" cy="725.3" r="8.9"/><circle cx="1269.6" cy="728.2" r="8.9"/><circle cx="1288.1" cy="731.6" r="8.9"/><circle cx="1306.5" cy="734.6" r="8.9"/><circle cx="1325" cy="739.1" r="8.9"/><circle cx="1343.5" cy="743.1" r="8.9"/><circle cx="1361.9" cy="748.5" r="8.9"/><circle cx="1380.4" cy="754.3" r="8.9"/><circle cx="1398.8" cy="762.1" r="8.9"/><circle cx="1417.3" cy="770.3" r="8.9"/><circle cx="1435.7" cy="779.3" r="8.9"/><circle cx="1454.2" cy="789.3" r="8.9"/><circle cx="1472.7" cy="799.3" r="8.9"/><circle cx="1491.1" cy="809.5" r="8.9"/><circle cx="1509.6" cy="820.6" r="8.9"/><circle cx="1528" cy="832.4" r="8.9"/><circle cx="1546.5" cy="843.8" r="8.9"/><circle cx="1564.9" cy="855.1" r="8.9"/><circle cx="1583.4" cy="866.8" r="8.9"/><circle cx="1601.9" cy="879.2" r="8.9"/><circle cx="1620.3" cy="891.3" r="8.9"/><circle cx="1638.8" cy="903.5" r="8.9"/><circle cx="1657.2" cy="915.8" r="8.9"/><circle cx="1675.7" cy="928.1" r="8.9"/><circle cx="1694.1" cy="940.8" r="8.9"/><circle cx="1712.6" cy="952.1" r="8.9"/>
<circle cx="1066.6" cy="719.5" r="8.05" class="o"/><circle cx="1088.9" cy="731.6" r="8.05" class="o"/><circle cx="1111.2" cy="745.2" r="8.05" class="o"/><circle cx="1133.4" cy="734" r="8.05" class="o"/><circle cx="1155.7" cy="745.4" r="8.05" class="o"/><circle cx="1178" cy="745.8" r="8.05" class="o"/><circle cx="1200.3" cy="753" r="8.05" class="o"/><circle cx="1222.5" cy="762.1" r="8.05" class="o"/><circle cx="1244.8" cy="763.9" r="8.05" class="o"/><circle cx="1267.1" cy="764.5" r="8.05" class="o"/><circle cx="1289.4" cy="774.8" r="8.05" class="o"/><circle cx="1311.6" cy="785.7" r="8.05" class="o"/><circle cx="1333.9" cy="796.6" r="8.05" class="o"/><circle cx="1356.2" cy="809.5" r="8.05" class="o"/><circle cx="1378.5" cy="825.7" r="8.05" class="o"/><circle cx="1400.7" cy="840.9" r="8.05" class="o"/><circle cx="1423" cy="856.9" r="8.05" class="o"/><circle cx="1445.3" cy="872.3" r="8.05" class="o"/><circle cx="1467.6" cy="887.1" r="8.05" class="o"/><circle cx="1489.8" cy="902.2" r="8.05" class="o"/><circle cx="1512.1" cy="915.4" r="8.05" class="o"/><circle cx="1534.4" cy="928.1" r="8.05" class="o"/><circle cx="1556.7" cy="939.4" r="8.05" class="o"/><circle cx="1578.9" cy="950.2" r="8.05" class="o"/><circle cx="1601.2" cy="959.3" r="8.05" class="o"/><circle cx="1623.5" cy="966.6" r="8.05" class="o"/><circle cx="1645.8" cy="972" r="8.05" class="o"/><circle cx="1668" cy="976.5" r="8.05" class="o"/><circle cx="1690.3" cy="979.3" r="8.05" class="o"/><circle cx="1712.6" cy="980.2" r="8.05" class="o"/>
<path d="M1057.2 631.8h18.8L1066.6 648.6z"/><path d="M1075.7 637.6h18.8L1085.1 654.4z"/><path d="M1094.1 644.8h18.8L1103.5 661.6z"/><path d="M1112.6 641.4h18.8L1122 658.2z"/><path d="M1131 659.9h18.8L1140.4 676.7z"/><path d="M1149.5 666.2h18.8L1158.9 683z"/><path d="M1167.9 672.2h18.8L1177.3 689z"/><path d="M1186.4 676.7h18.8L1195.8 693.5z"/><path d="M1204.9 680.7h18.8L1214.3 697.5z"/><path d="M1223.3 684h18.8L1232.7 700.8z"/><path d="M1241.8 686.7h18.8L1251.2 703.5z"/><path d="M1260.2 688.9h18.8L1269.6 705.7z"/><path d="M1278.7 691.1h18.8L1288.1 707.9z"/><path d="M1297.1 693.1h18.8L1306.5 709.9z"/><path d="M1315.6 695.6h18.8L1325 712.4z"/><path d="M1334.1 698.5h18.8L1343.5 715.3z"/><path d="M1352.5 701.9h18.8L1361.9 718.7z"/><path d="M1371 706.1h18.8L1380.4 722.9z"/><path d="M1389.4 712.1h18.8L1398.8 728.9z"/><path d="M1407.9 718.3h18.8L1417.3 735.1z"/><path d="M1426.3 725.7h18.8L1435.7 742.5z"/><path d="M1444.8 734.2h18.8L1454.2 751z"/><path d="M1463.3 744.2h18.8L1472.7 761z"/><path d="M1481.7 754.2h18.8L1491.1 771z"/><path d="M1500.2 765.4h18.8L1509.6 782.2z"/><path d="M1518.6 776.8h18.8L1528 793.6z"/><path d="M1537.1 789.5h18.8L1546.5 806.3z"/><path d="M1555.5 801.7h18.8L1564.9 818.5z"/><path d="M1574 815h18.8L1583.4 831.8z"/><path d="M1592.5 828.4h18.8L1601.9 845.2z"/><path d="M1610.9 842h18.8L1620.3 858.8z"/><path d="M1629.4 855.6h18.8L1638.8 872.4z"/><path d="M1647.8 869.8h18.8L1657.2 886.6z"/><path d="M1666.3 883.7h18.8L1675.7 900.5z"/><path d="M1684.7 898.4h18.8L1694.1 915.2z"/><path d="M1703.2 912.9h18.8L1712.6 929.7z"/>
<path class="ax" d="M1712.6 576.1V1043.1M1712.6 1043.1h-7.4M1712.6 1032.7h-7.4M1712.6 1022.3h-7.4M1712.6 1012h-7.4M1712.6 1001.6h-7.4M1712.6 991.2h-7.4M1712.6 980.8h-7.4M1712.6 970.5h-7.4M1712.6 960.1h-7.4M1712.6 949.7h-7.4M1712.6 939.3h-7.4M1712.6 928.9h-7.4M1712.6 918.6h-7.4M1712.6 908.2h-7.4M1712.6 897.8h-7.4M1712.6 887.4h-7.4M1712.6 877.1h-7.4M1712.6 866.7h-7.4M1712.6 856.3h-7.4M1712.6 845.9h-7.4M1712.6 835.5h-7.4M1712.6 825.2h-7.4M1712.6 814.8h-7.4M1712.6 804.4h-7.4M1712.6 794h-7.4M1712.6 783.7h-7.4M1712.6 773.3h-7.4M1712.6 762.9h-7.4M1712.6 752.5h-7.4M1712.6 742.1h-7.4M1712.6 731.8h-7.4M1712.6 721.4h-7.4M1712.6 711h-7.4M1712.6 700.6h-7.4M1712.6 690.3h-7.4M1712.6 679.9h-7.4M1712.6 669.5h-7.4M1712.6 659.1h-7.4M1712.6 648.7h-7.4M1712.6 638.4h-7.4M1712.6 628h-7.4M1712.6 617.6h-7.4M1712.6 607.2h-7.4M1712.6 596.9h-7.4M1712.6 586.5h-7.4M1712.6 576.1h-7.4"/>
<circle cx="1085.1" cy="838.7" r="8.9"/><circle cx="1103.5" cy="847.3" r="8.9"/><circle cx="1122" cy="846.5" r="8.9"/><circle cx="1140.4" cy="848.7" r="8.9"/><circle cx="1158.9" cy="860.5" r="8.9"/><circle cx="1177.3" cy="887.7" r="8.9"/><circle cx="1195.8" cy="891.3" r="8.9"/><circle cx="1214.3" cy="910" r="8.9"/><circle cx="1232.7" cy="922.5" r="8.9"/><circle cx="1251.2" cy="930.3" r="8.9"/><circle cx="1269.6" cy="932.7" r="8.9"/><circle cx="1288.1" cy="927" r="8.9"/><circle cx="1306.5" cy="916.3" r="8.9"/><circle cx="1325" cy="903.1" r="8.9"/><circle cx="1343.5" cy="884.6" r="8.9"/><circle cx="1361.9" cy="862.8" r="8.9"/><circle cx="1380.4" cy="838.2" r="8.9"/><circle cx="1398.8" cy="813.3" r="8.9"/><circle cx="1417.3" cy="790.6" r="8.9"/><circle cx="1435.7" cy="769.9" r="8.9"/><circle cx="1454.2" cy="753" r="8.9"/><circle cx="1472.7" cy="738.5" r="8.9"/><circle cx="1491.1" cy="726.8" r="8.9"/><circle cx="1509.6" cy="716.2" r="8.9"/><circle cx="1528" cy="709.5" r="8.9"/><circle cx="1546.5" cy="703.2" r="8.9"/><circle cx="1564.9" cy="697.7" r="8.9"/><circle cx="1583.4" cy="693.7" r="8.9"/><circle cx="1601.9" cy="689.2" r="8.9"/><circle cx="1620.3" cy="686" r="8.9"/><circle cx="1638.8" cy="684.1" r="8.9"/><circle cx="1657.2" cy="682.3" r="8.9"/><circle cx="1675.7" cy="684.7" r="8.9"/><circle cx="1694.1" cy="694.5" r="8.9"/><circle cx="1712.6" cy="709.5" r="8.9"/>
<circle cx="1066.6" cy="982.5" r="8.05" class="o"/><circle cx="1088.9" cy="965.3" r="8.05" class="o"/><circle cx="1111.2" cy="945.4" r="8.05" class="o"/><circle cx="1133.4" cy="955.1" r="8.05" class="o"/><circle cx="1155.7" cy="991.4" r="8.05" class="o"/><circle cx="1178" cy="991.4" r="8.05" class="o"/><circle cx="1200.3" cy="970.2" r="8.05" class="o"/><circle cx="1222.5" cy="944.8" r="8.05" class="o"/><circle cx="1244.8" cy="907.3" r="8.05" class="o"/><circle cx="1267.1" cy="856.3" r="8.05" class="o"/><circle cx="1289.4" cy="829.3" r="8.05" class="o"/><circle cx="1311.6" cy="814" r="8.05" class="o"/><circle cx="1333.9" cy="749.4" r="8.05" class="o"/><circle cx="1356.2" cy="714.1" r="8.05" class="o"/><circle cx="1378.5" cy="689.2" r="8.05" class="o"/><circle cx="1400.7" cy="677.8" r="8.05" class="o"/><circle cx="1423" cy="671.1" r="8.05" class="o"/><circle cx="1445.3" cy="677.2" r="8.05" class="o"/><circle cx="1467.6" cy="688.3" r="8.05" class="o"/><circle cx="1489.8" cy="705.9" r="8.05" class="o"/><circle cx="1512.1" cy="728" r="8.05" class="o"/><circle cx="1534.4" cy="752.7" r="8.05" class="o"/><circle cx="1556.7" cy="777.5" r="8.05" class="o"/><circle cx="1578.9" cy="808" r="8.05" class="o"/><circle cx="1601.2" cy="840" r="8.05" class="o"/><circle cx="1623.5" cy="871.9" r="8.05" class="o"/><circle cx="1645.8" cy="904" r="8.05" class="o"/><circle cx="1668" cy="931.2" r="8.05" class="o"/><circle cx="1690.3" cy="954.8" r="8.05" class="o"/><circle cx="1712.6" cy="964.4" r="8.05" class="o"/>
<path d="M1057.2 775.9h18.8L1066.6 792.7z"/><path d="M1075.7 819.4h18.8L1085.1 836.2z"/><path d="M1094.1 827.2h18.8L1103.5 844z"/><path d="M1112.6 825.7h18.8L1122 842.5z"/><path d="M1131 847.5h18.8L1140.4 864.3z"/><path d="M1149.5 860.2h18.8L1158.9 877z"/><path d="M1167.9 881h18.8L1177.3 897.8z"/><path d="M1186.4 902.4h18.8L1195.8 919.2z"/><path d="M1204.9 919.3h18.8L1214.3 936.1z"/><path d="M1223.3 936.5h18.8L1232.7 953.3z"/><path d="M1241.8 948.1h18.8L1251.2 964.9z"/><path d="M1260.2 954.1h18.8L1269.6 970.9z"/><path d="M1278.7 955h18.8L1288.1 971.8z"/><path d="M1297.1 951h18.8L1306.5 967.8z"/><path d="M1315.6 941.9h18.8L1325 958.7z"/><path d="M1334.1 927.4h18.8L1343.5 944.2z"/><path d="M1352.5 906.4h18.8L1361.9 923.2z"/><path d="M1371 883.4h18.8L1380.4 900.2z"/><path d="M1389.4 856.7h18.8L1398.8 873.5z"/><path d="M1407.9 828.1h18.8L1417.3 844.9z"/><path d="M1426.3 800.3h18.8L1435.7 817.1z"/><path d="M1444.8 772.3h18.8L1454.2 789.1z"/><path d="M1463.3 743.8h18.8L1472.7 760.6z"/><path d="M1481.7 724.6h18.8L1491.1 741.4z"/><path d="M1500.2 704.1h18.8L1509.6 720.9z"/><path d="M1518.6 687.1h18.8L1528 703.9z"/><path d="M1537.1 671.7h18.8L1546.5 688.5z"/><path d="M1555.5 659.2h18.8L1564.9 676z"/><path d="M1574 648.6h18.8L1583.4 665.4z"/><path d="M1592.5 640.5h18.8L1601.9 657.3z"/><path d="M1610.9 633.8h18.8L1620.3 650.6z"/><path d="M1629.4 630h18.8L1638.8 646.8z"/><path d="M1647.8 627.6h18.8L1657.2 644.4z"/><path d="M1666.3 627.8h18.8L1675.7 644.6z"/><path d="M1684.7 635.2h18.8L1694.1 652z"/><path d="M1703.2 634.5h18.8L1712.6 651.3z"/>
<circle cx="1384.6" cy="943" r="8.9"/>
<text x="1429.6" y="952" class="lg">NSS</text>
<circle cx="1384.6" cy="978.3" r="8.05" class="o"/>
<text x="1429.6" y="987.4" class="lg">AASS</text>
<path d="M1375.2 1007.2h18.8L1384.6 1024z"/>
<text x="1429.6" y="1022.8" class="lg">Prohesion</text>
<text x="1051.4" y="1052.9" font-size="27.5" text-anchor="end">10<tspan font-size="18.4" dx="0.5" dy="-9.1">1</tspan></text>
<text x="1051.4" y="975.1" font-size="27.5" text-anchor="end">10<tspan font-size="18.4" dx="0.5" dy="-9.1">2</tspan></text>
<text x="1051.4" y="897.2" font-size="27.5" text-anchor="end">10<tspan font-size="18.4" dx="0.5" dy="-9.1">3</tspan></text>
<text x="1051.4" y="819.4" font-size="27.5" text-anchor="end">10<tspan font-size="18.4" dx="0.5" dy="-9.1">4</tspan></text>
<text x="1051.4" y="741.6" font-size="27.5" text-anchor="end">10<tspan font-size="18.4" dx="0.5" dy="-9.1">5</tspan></text>
<text x="1051.4" y="663.7" font-size="27.5" text-anchor="end">10<tspan font-size="18.4" dx="0.5" dy="-9.1">6</tspan></text>
<text x="1051.4" y="585.9" font-size="27.5" text-anchor="end">10<tspan font-size="18.4" dx="0.5" dy="-9.1">7</tspan></text>
<text x="1066.6" y="1081.6" font-size="27.5" text-anchor="middle">10<tspan font-size="18.4" dx="0.5" dy="-9.1">-2</tspan></text>
<text x="1158.9" y="1081.6" font-size="27.5" text-anchor="middle">10<tspan font-size="18.4" dx="0.5" dy="-9.1">-1</tspan></text>
<text x="1251.2" y="1081.6" font-size="27.5" text-anchor="middle">10<tspan font-size="18.4" dx="0.5" dy="-9.1">0</tspan></text>
<text x="1343.5" y="1081.6" font-size="27.5" text-anchor="middle">10<tspan font-size="18.4" dx="0.5" dy="-9.1">1</tspan></text>
<text x="1435.7" y="1081.6" font-size="27.5" text-anchor="middle">10<tspan font-size="18.4" dx="0.5" dy="-9.1">2</tspan></text>
<text x="1528" y="1081.6" font-size="27.5" text-anchor="middle">10<tspan font-size="18.4" dx="0.5" dy="-9.1">3</tspan></text>
<text x="1620.3" y="1081.6" font-size="27.5" text-anchor="middle">10<tspan font-size="18.4" dx="0.5" dy="-9.1">4</tspan></text>
<text x="1712.6" y="1081.6" font-size="27.5" text-anchor="middle">10<tspan font-size="18.4" dx="0.5" dy="-9.1">5</tspan></text>
<text x="1727.8" y="1054" font-size="30.5">0</text>
<text x="1727.8" y="1002.1" font-size="30.5">10</text>
<text x="1727.8" y="950.2" font-size="30.5">20</text>
<text x="1727.8" y="898.4" font-size="30.5">30</text>
<text x="1727.8" y="846.5" font-size="30.5">40</text>
<text x="1727.8" y="794.6" font-size="30.5">50</text>
<text x="1727.8" y="742.7" font-size="30.5">60</text>
<text x="1727.8" y="690.8" font-size="30.5">70</text>
<text x="1727.8" y="638.9" font-size="30.5">80</text>
<text x="1727.8" y="587" font-size="30.5">90</text>
<text x="1085.8" y="627" class="b" font-size="55" text-anchor="start">e</text>
<text transform="translate(972.4,881.2) rotate(-90)" class="b" font-size="27.8" text-anchor="start">log|<tspan font-size="26.7">Ω</tspan>/cm<tspan dx="0" dy="-9.7" font-size="27.8">2</tspan><tspan dx="0" dy="9.7">|</tspan></text>
<text transform="translate(1814,899.2) rotate(-90)" class="b" font-size="27.4" text-anchor="start">- phase (deg.)</text>
<text x="1302.2" y="1108.6" class="b" font-size="27.45" text-anchor="start">Frequency/Hz</text>
</g>
<g id="panel-f">
<path class="ax" d="M1066.6 1633.1V1166.3H1712.6M1066.6 1633.1H1712.6M1066.6 1633.1h7.2M1066.6 1609.7h5M1066.6 1596h5M1066.6 1586.3h5M1066.6 1578.7h5M1066.6 1572.6h5M1066.6 1567.4h5M1066.6 1562.8h5M1066.6 1558.9h5M1066.6 1555.3h7.2M1066.6 1531.9h5M1066.6 1518.2h5M1066.6 1508.5h5M1066.6 1500.9h5M1066.6 1494.8h5M1066.6 1489.6h5M1066.6 1485h5M1066.6 1481.1h5M1066.6 1477.5h7.2M1066.6 1454.1h5M1066.6 1440.4h5M1066.6 1430.7h5M1066.6 1423.1h5M1066.6 1417h5M1066.6 1411.8h5M1066.6 1407.2h5M1066.6 1403.3h5M1066.6 1399.7h7.2M1066.6 1376.3h5M1066.6 1362.6h5M1066.6 1352.9h5M1066.6 1345.3h5M1066.6 1339.2h5M1066.6 1334h5M1066.6 1329.4h5M1066.6 1325.5h5M1066.6 1321.9h7.2M1066.6 1298.5h5M1066.6 1284.8h5M1066.6 1275.1h5M1066.6 1267.5h5M1066.6 1261.4h5M1066.6 1256.2h5M1066.6 1251.6h5M1066.6 1247.7h5M1066.6 1244.1h7.2M1066.6 1220.7h5M1066.6 1207h5M1066.6 1197.3h5M1066.6 1189.7h5M1066.6 1183.6h5M1066.6 1178.4h5M1066.6 1173.8h5M1066.6 1169.9h5M1066.6 1166.3h7.2M1066.6 1633.1v-7.2M1094.4 1633.1v-4.3M1110.6 1633.1v-4.3M1122.2 1633.1v-4.3M1131.1 1633.1v-4.3M1138.4 1633.1v-4.3M1144.6 1633.1v-4.3M1149.9 1633.1v-4.3M1154.7 1633.1v-4.3M1158.9 1633.1v-7.2M1186.7 1633.1v-4.3M1202.9 1633.1v-4.3M1214.4 1633.1v-4.3M1223.4 1633.1v-4.3M1230.7 1633.1v-4.3M1236.9 1633.1v-4.3M1242.2 1633.1v-4.3M1246.9 1633.1v-4.3M1251.2 1633.1v-7.2M1279 1633.1v-4.3M1295.2 1633.1v-4.3M1306.7 1633.1v-4.3M1315.7 1633.1v-4.3M1323 1633.1v-4.3M1329.2 1633.1v-4.3M1334.5 1633.1v-4.3M1339.2 1633.1v-4.3M1343.5 1633.1v-7.2M1371.2 1633.1v-4.3M1387.5 1633.1v-4.3M1399 1633.1v-4.3M1408 1633.1v-4.3M1415.3 1633.1v-4.3M1421.4 1633.1v-4.3M1426.8 1633.1v-4.3M1431.5 1633.1v-4.3M1435.7 1633.1v-7.2M1463.5 1633.1v-4.3M1479.8 1633.1v-4.3M1491.3 1633.1v-4.3M1500.2 1633.1v-4.3M1507.6 1633.1v-4.3M1513.7 1633.1v-4.3M1519.1 1633.1v-4.3M1523.8 1633.1v-4.3M1528 1633.1v-7.2M1555.8 1633.1v-4.3M1572.1 1633.1v-4.3M1583.6 1633.1v-4.3M1592.5 1633.1v-4.3M1599.8 1633.1v-4.3M1606 1633.1v-4.3M1611.4 1633.1v-4.3M1616.1 1633.1v-4.3M1620.3 1633.1v-7.2M1648.1 1633.1v-4.3M1664.3 1633.1v-4.3M1675.9 1633.1v-4.3M1684.8 1633.1v-4.3M1692.1 1633.1v-4.3M1698.3 1633.1v-4.3M1703.7 1633.1v-4.3M1708.4 1633.1v-4.3M1712.6 1633.1v-7.2"/>
<circle cx="1066.6" cy="1244.6" r="8.9"/><circle cx="1085.1" cy="1255.5" r="8.9"/><circle cx="1103.5" cy="1263.8" r="8.9"/><circle cx="1122" cy="1270.5" r="8.9"/><circle cx="1140.4" cy="1279" r="8.9"/><circle cx="1158.9" cy="1284.1" r="8.9"/><circle cx="1177.3" cy="1289" r="8.9"/><circle cx="1195.8" cy="1293.7" r="8.9"/><circle cx="1214.3" cy="1298.6" r="8.9"/><circle cx="1232.7" cy="1302.2" r="8.9"/><circle cx="1251.2" cy="1305.5" r="8.9"/><circle cx="1269.6" cy="1309.1" r="8.9"/><circle cx="1288.1" cy="1312.2" r="8.9"/><circle cx="1306.5" cy="1317.1" r="8.9"/><circle cx="1325" cy="1322.2" r="8.9"/><circle cx="1343.5" cy="1328" r="8.9"/><circle cx="1361.9" cy="1334.9" r="8.9"/><circle cx="1380.4" cy="1342.5" r="8.9"/><circle cx="1398.8" cy="1351.2" r="8.9"/><circle cx="1417.3" cy="1362.1" r="8.9"/><circle cx="1435.7" cy="1372.4" r="8.9"/><circle cx="1454.2" cy="1383.8" r="8.9"/><circle cx="1472.7" cy="1395.5" r="8.9"/><circle cx="1491.1" cy="1406.1" r="8.9"/><circle cx="1509.6" cy="1417.9" r="8.9"/><circle cx="1528" cy="1430.2" r="8.9"/><circle cx="1546.5" cy="1442" r="8.9"/><circle cx="1564.9" cy="1454.1" r="8.9"/><circle cx="1583.4" cy="1465.9" r="8.9"/><circle cx="1601.9" cy="1478.2" r="8.9"/><circle cx="1620.3" cy="1490.4" r="8.9"/><circle cx="1638.8" cy="1501.8" r="8.9"/><circle cx="1657.2" cy="1512.1" r="8.9"/><circle cx="1675.7" cy="1523" r="8.9"/><circle cx="1694.1" cy="1533" r="8.9"/><circle cx="1712.6" cy="1541.2" r="8.9"/>
<circle cx="1066.6" cy="1342.1" r="8.05" class="o"/><circle cx="1088.9" cy="1342.1" r="8.05" class="o"/><circle cx="1111.2" cy="1342.3" r="8.05" class="o"/><circle cx="1133.4" cy="1342.6" r="8.05" class="o"/><circle cx="1155.7" cy="1343.4" r="8.05" class="o"/><circle cx="1178" cy="1344.5" r="8.05" class="o"/><circle cx="1200.3" cy="1347" r="8.05" class="o"/><circle cx="1222.5" cy="1351.6" r="8.05" class="o"/><circle cx="1244.8" cy="1359.4" r="8.05" class="o"/><circle cx="1267.1" cy="1372.6" r="8.05" class="o"/><circle cx="1289.4" cy="1386" r="8.05" class="o"/><circle cx="1311.6" cy="1398.8" r="8.05" class="o"/><circle cx="1333.9" cy="1414.2" r="8.05" class="o"/><circle cx="1356.2" cy="1429.6" r="8.05" class="o"/><circle cx="1378.5" cy="1445.1" r="8.05" class="o"/><circle cx="1400.7" cy="1459.6" r="8.05" class="o"/><circle cx="1423" cy="1474.6" r="8.05" class="o"/><circle cx="1445.3" cy="1488.9" r="8.05" class="o"/><circle cx="1467.6" cy="1502.7" r="8.05" class="o"/><circle cx="1489.8" cy="1516.3" r="8.05" class="o"/><circle cx="1512.1" cy="1527.2" r="8.05" class="o"/><circle cx="1534.4" cy="1537.2" r="8.05" class="o"/><circle cx="1556.7" cy="1545.3" r="8.05" class="o"/><circle cx="1578.9" cy="1552.9" r="8.05" class="o"/><circle cx="1601.2" cy="1559.8" r="8.05" class="o"/><circle cx="1623.5" cy="1566" r="8.05" class="o"/><circle cx="1645.8" cy="1572" r="8.05" class="o"/><circle cx="1668" cy="1577" r="8.05" class="o"/><circle cx="1690.3" cy="1580.1" r="8.05" class="o"/><circle cx="1712.6" cy="1581" r="8.05" class="o"/>
<path d="M1079.5 1239h18.8L1088.9 1255.8z"/><path d="M1101.8 1234.1h18.8L1111.2 1250.9z"/><path d="M1124 1248.4h18.8L1133.4 1265.2z"/><path d="M1146.3 1242.6h18.8L1155.7 1259.4z"/><path d="M1168.6 1250.8h18.8L1178 1267.6z"/><path d="M1190.9 1258.9h18.8L1200.3 1275.7z"/><path d="M1213.1 1266.6h18.8L1222.5 1283.4z"/><path d="M1235.4 1272h18.8L1244.8 1288.8z"/><path d="M1257.7 1278.4h18.8L1267.1 1295.2z"/><path d="M1280 1283.8h18.8L1289.4 1300.6z"/><path d="M1302.2 1288.5h18.8L1311.6 1305.3z"/><path d="M1324.5 1293.9h18.8L1333.9 1310.7z"/><path d="M1346.8 1300.7h18.8L1356.2 1317.5z"/><path d="M1369.1 1307.4h18.8L1378.5 1324.2z"/><path d="M1391.3 1316.1h18.8L1400.7 1332.9z"/><path d="M1413.6 1325.9h18.8L1423 1342.7z"/><path d="M1435.9 1336.9h18.8L1445.3 1353.7z"/><path d="M1458.2 1348.3h18.8L1467.6 1365.1z"/><path d="M1480.4 1361.4h18.8L1489.8 1378.2z"/><path d="M1502.7 1375h18.8L1512.1 1391.8z"/><path d="M1525 1389.5h18.8L1534.4 1406.3z"/><path d="M1547.3 1404.5h18.8L1556.7 1421.3z"/><path d="M1569.5 1419h18.8L1578.9 1435.8z"/><path d="M1591.8 1434.4h18.8L1601.2 1451.2z"/><path d="M1614.1 1449.4h18.8L1623.5 1466.2z"/><path d="M1636.4 1462.9h18.8L1645.8 1479.7z"/><path d="M1658.6 1476.6h18.8L1668 1493.4z"/><path d="M1680.9 1488.8h18.8L1690.3 1505.6z"/><path d="M1703.2 1501.1h18.8L1712.6 1517.9z"/>
<path class="ax" d="M1712.6 1166.3V1633.1M1712.6 1633.1h-7.4M1712.6 1622.7h-7.4M1712.6 1612.4h-7.4M1712.6 1602h-7.4M1712.6 1591.6h-7.4M1712.6 1581.2h-7.4M1712.6 1570.9h-7.4M1712.6 1560.5h-7.4M1712.6 1550.1h-7.4M1712.6 1539.7h-7.4M1712.6 1529.4h-7.4M1712.6 1519h-7.4M1712.6 1508.6h-7.4M1712.6 1498.2h-7.4M1712.6 1487.9h-7.4M1712.6 1477.5h-7.4M1712.6 1467.1h-7.4M1712.6 1456.8h-7.4M1712.6 1446.4h-7.4M1712.6 1436h-7.4M1712.6 1425.6h-7.4M1712.6 1415.3h-7.4M1712.6 1404.9h-7.4M1712.6 1394.5h-7.4M1712.6 1384.1h-7.4M1712.6 1373.8h-7.4M1712.6 1363.4h-7.4M1712.6 1353h-7.4M1712.6 1342.6h-7.4M1712.6 1332.3h-7.4M1712.6 1321.9h-7.4M1712.6 1311.5h-7.4M1712.6 1301.2h-7.4M1712.6 1290.8h-7.4M1712.6 1280.4h-7.4M1712.6 1270h-7.4M1712.6 1259.7h-7.4M1712.6 1249.3h-7.4M1712.6 1238.9h-7.4M1712.6 1228.5h-7.4M1712.6 1218.2h-7.4M1712.6 1207.8h-7.4M1712.6 1197.4h-7.4M1712.6 1187h-7.4M1712.6 1176.7h-7.4M1712.6 1166.3h-7.4"/>
<circle cx="1066.6" cy="1427.8" r="8.9"/><circle cx="1085.1" cy="1395.8" r="8.9"/><circle cx="1103.5" cy="1459.2" r="8.9"/><circle cx="1122" cy="1455.9" r="8.9"/><circle cx="1140.4" cy="1469.5" r="8.9"/><circle cx="1158.9" cy="1471.7" r="8.9"/><circle cx="1177.3" cy="1484.4" r="8.9"/><circle cx="1195.8" cy="1493.6" r="8.9"/><circle cx="1214.3" cy="1502.2" r="8.9"/><circle cx="1232.7" cy="1508.9" r="8.9"/><circle cx="1251.2" cy="1511.6" r="8.9"/><circle cx="1269.6" cy="1507.1" r="8.9"/><circle cx="1288.1" cy="1496.7" r="8.9"/><circle cx="1306.5" cy="1480.4" r="8.9"/><circle cx="1325" cy="1458.3" r="8.9"/><circle cx="1343.5" cy="1433.8" r="8.9"/><circle cx="1361.9" cy="1407.5" r="8.9"/><circle cx="1380.4" cy="1382.9" r="8.9"/><circle cx="1398.8" cy="1359.4" r="8.9"/><circle cx="1417.3" cy="1339.4" r="8.9"/><circle cx="1435.7" cy="1321.8" r="8.9"/><circle cx="1454.2" cy="1308.6" r="8.9"/><circle cx="1472.7" cy="1297.7" r="8.9"/><circle cx="1491.1" cy="1289.9" r="8.9"/><circle cx="1509.6" cy="1284.5" r="8.9"/><circle cx="1528" cy="1281.9" r="8.9"/><circle cx="1546.5" cy="1280.1" r="8.9"/><circle cx="1564.9" cy="1280.1" r="8.9"/><circle cx="1583.4" cy="1282.7" r="8.9"/><circle cx="1601.9" cy="1285.6" r="8.9"/><circle cx="1620.3" cy="1292.3" r="8.9"/><circle cx="1638.8" cy="1300.4" r="8.9"/><circle cx="1657.2" cy="1311.3" r="8.9"/><circle cx="1675.7" cy="1327.6" r="8.9"/><circle cx="1694.1" cy="1347.9" r="8.9"/><circle cx="1712.6" cy="1371.1" r="8.9"/>
<circle cx="1066.6" cy="1626.4" r="8.05" class="o"/><circle cx="1088.9" cy="1622.2" r="8.05" class="o"/><circle cx="1111.2" cy="1615.5" r="8.05" class="o"/><circle cx="1133.4" cy="1604.3" r="8.05" class="o"/><circle cx="1155.7" cy="1586.8" r="8.05" class="o"/><circle cx="1178" cy="1559.8" r="8.05" class="o"/><circle cx="1200.3" cy="1520.7" r="8.05" class="o"/><circle cx="1222.5" cy="1468.1" r="8.05" class="o"/><circle cx="1244.8" cy="1409.1" r="8.05" class="o"/><circle cx="1267.1" cy="1360.1" r="8.05" class="o"/><circle cx="1289.4" cy="1319.5" r="8.05" class="o"/><circle cx="1311.6" cy="1301.9" r="8.05" class="o"/><circle cx="1333.9" cy="1281.4" r="8.05" class="o"/><circle cx="1356.2" cy="1271.8" r="8.05" class="o"/><circle cx="1378.5" cy="1268.3" r="8.05" class="o"/><circle cx="1400.7" cy="1272.3" r="8.05" class="o"/><circle cx="1423" cy="1277.8" r="8.05" class="o"/><circle cx="1445.3" cy="1293.2" r="8.05" class="o"/><circle cx="1467.6" cy="1313.1" r="8.05" class="o"/><circle cx="1489.8" cy="1340.3" r="8.05" class="o"/><circle cx="1512.1" cy="1370.8" r="8.05" class="o"/><circle cx="1534.4" cy="1400" r="8.05" class="o"/><circle cx="1556.7" cy="1423.8" r="8.05" class="o"/><circle cx="1578.9" cy="1444.5" r="8.05" class="o"/><circle cx="1601.2" cy="1461.4" r="8.05" class="o"/><circle cx="1623.5" cy="1479.5" r="8.05" class="o"/><circle cx="1645.8" cy="1500.7" r="8.05" class="o"/><circle cx="1668" cy="1523.4" r="8.05" class="o"/><circle cx="1690.3" cy="1548.9" r="8.05" class="o"/><circle cx="1712.6" cy="1567.4" r="8.05" class="o"/>
<path d="M1079.5 1491h18.8L1088.9 1507.8z"/><path d="M1101.8 1487.9h18.8L1111.2 1504.7z"/><path d="M1124 1492.8h18.8L1133.4 1509.6z"/><path d="M1146.3 1495.7h18.8L1155.7 1512.5z"/><path d="M1168.6 1495.1h18.8L1178 1511.9z"/><path d="M1190.9 1468.8h18.8L1200.3 1485.6z"/><path d="M1213.1 1481h18.8L1222.5 1497.8z"/><path d="M1235.4 1480.1h18.8L1244.8 1496.9z"/><path d="M1257.7 1485.5h18.8L1267.1 1502.3z"/><path d="M1280 1483h18.8L1289.4 1499.8z"/><path d="M1302.2 1476.1h18.8L1311.6 1492.9z"/><path d="M1324.5 1467.4h18.8L1333.9 1484.2z"/><path d="M1346.8 1449.3h18.8L1356.2 1466.1z"/><path d="M1369.1 1426.8h18.8L1378.5 1443.6z"/><path d="M1391.3 1398.1h18.8L1400.7 1414.9z"/><path d="M1413.6 1373.2h18.8L1423 1390z"/><path d="M1435.9 1350.5h18.8L1445.3 1367.3z"/><path d="M1458.2 1326.9h18.8L1467.6 1343.7z"/><path d="M1480.4 1308.8h18.8L1489.8 1325.6z"/><path d="M1502.7 1292.9h18.8L1512.1 1309.7z"/><path d="M1525 1278.4h18.8L1534.4 1295.2z"/><path d="M1547.3 1268.6h18.8L1556.7 1285.4z"/><path d="M1569.5 1264.8h18.8L1578.9 1281.6z"/><path d="M1591.8 1267.7h18.8L1601.2 1284.5z"/><path d="M1614.1 1276.2h18.8L1623.5 1293z"/><path d="M1636.4 1284.7h18.8L1645.8 1301.5z"/><path d="M1658.6 1298.8h18.8L1668 1315.6z"/><path d="M1680.9 1314.3h18.8L1690.3 1331.1z"/><path d="M1703.2 1318.8h18.8L1712.6 1335.6z"/>
<circle cx="1312.3" cy="1531.5" r="8.9"/>
<text x="1358" y="1540.2" class="lg">NSS</text>
<circle cx="1312.3" cy="1566.5" r="8.05" class="o"/>
<text x="1358" y="1575.6" class="lg">AASS</text>
<path d="M1302.9 1595.8h18.8L1312.3 1612.6z"/>
<text x="1358" y="1611" class="lg">Prohesion</text>
<text x="1053" y="1642.9" font-size="27.5" text-anchor="end">10<tspan font-size="18.4" dx="0.5" dy="-9.1">1</tspan></text>
<text x="1053" y="1565.1" font-size="27.5" text-anchor="end">10<tspan font-size="18.4" dx="0.5" dy="-9.1">2</tspan></text>
<text x="1053" y="1487.3" font-size="27.5" text-anchor="end">10<tspan font-size="18.4" dx="0.5" dy="-9.1">3</tspan></text>
<text x="1053" y="1409.5" font-size="27.5" text-anchor="end">10<tspan font-size="18.4" dx="0.5" dy="-9.1">4</tspan></text>
<text x="1053" y="1331.7" font-size="27.5" text-anchor="end">10<tspan font-size="18.4" dx="0.5" dy="-9.1">5</tspan></text>
<text x="1053" y="1253.9" font-size="27.5" text-anchor="end">10<tspan font-size="18.4" dx="0.5" dy="-9.1">6</tspan></text>
<text x="1053" y="1176.1" font-size="27.5" text-anchor="end">10<tspan font-size="18.4" dx="0.5" dy="-9.1">7</tspan></text>
<text x="1066.6" y="1671.6" font-size="27.5" text-anchor="middle">10<tspan font-size="18.4" dx="0.5" dy="-9.1">-2</tspan></text>
<text x="1158.9" y="1671.6" font-size="27.5" text-anchor="middle">10<tspan font-size="18.4" dx="0.5" dy="-9.1">-1</tspan></text>
<text x="1251.2" y="1671.6" font-size="27.5" text-anchor="middle">10<tspan font-size="18.4" dx="0.5" dy="-9.1">0</tspan></text>
<text x="1343.5" y="1671.6" font-size="27.5" text-anchor="middle">10<tspan font-size="18.4" dx="0.5" dy="-9.1">1</tspan></text>
<text x="1435.7" y="1671.6" font-size="27.5" text-anchor="middle">10<tspan font-size="18.4" dx="0.5" dy="-9.1">2</tspan></text>
<text x="1528" y="1671.6" font-size="27.5" text-anchor="middle">10<tspan font-size="18.4" dx="0.5" dy="-9.1">3</tspan></text>
<text x="1620.3" y="1671.6" font-size="27.5" text-anchor="middle">10<tspan font-size="18.4" dx="0.5" dy="-9.1">4</tspan></text>
<text x="1712.6" y="1671.6" font-size="27.5" text-anchor="middle">10<tspan font-size="18.4" dx="0.5" dy="-9.1">5</tspan></text>
<text x="1726.1" y="1643" font-size="27.6">0</text>
<text x="1726.1" y="1591.1" font-size="27.6">10</text>
<text x="1726.1" y="1539.2" font-size="27.6">20</text>
<text x="1726.1" y="1487.4" font-size="27.6">30</text>
<text x="1726.1" y="1435.5" font-size="27.6">40</text>
<text x="1726.1" y="1383.6" font-size="27.6">50</text>
<text x="1726.1" y="1331.8" font-size="27.6">60</text>
<text x="1726.1" y="1279.9" font-size="27.6">70</text>
<text x="1726.1" y="1228" font-size="27.6">80</text>
<text x="1726.1" y="1176.2" font-size="27.6">90</text>
<text x="1091" y="1222.1" class="b" font-size="55" text-anchor="start">f</text>
<text transform="translate(977.7,1483.2) rotate(-90)" class="b" font-size="27.8" text-anchor="start">log|Z/<tspan font-size="26.7">Ω</tspan>.cm<tspan dx="0" dy="-9.7" font-size="27.8">2</tspan><tspan dx="0" dy="9.7">|</tspan></text>
<text transform="translate(1809.5,1493.5) rotate(-90)" class="b" font-size="27.6" text-anchor="start">- phase (-deg.)</text>
<text x="1327.3" y="1707.8" class="b" font-size="27.45" text-anchor="start">Frequency/Hz</text>
</g>
</svg>
</body></html>
